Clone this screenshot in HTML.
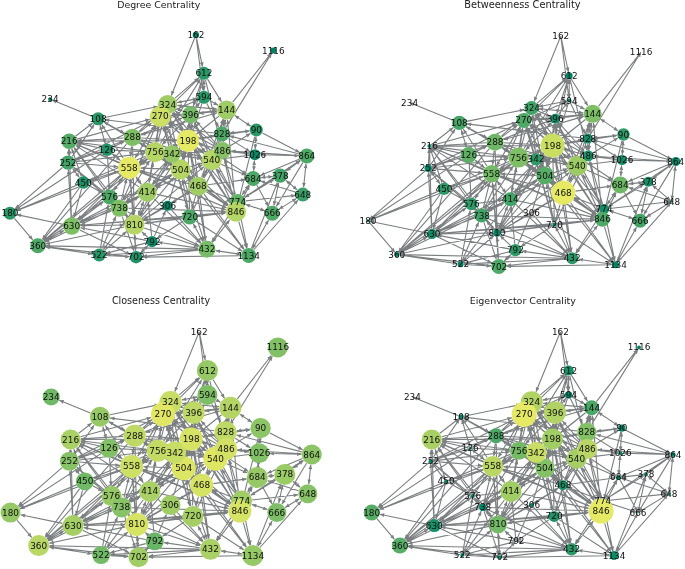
<!DOCTYPE html>
<html><head><meta charset="utf-8"><title>Centrality</title>
<style>html,body{margin:0;padding:0;background:#fff}svg{display:block;font-family:"DejaVu Sans","Liberation Sans",sans-serif}</style>
</head><body>
<svg width="685" height="569" viewBox="0 0 685 569">
<rect width="685" height="569" fill="#fff"/>
<g>
<path d="M91.8 116.3L52.2 100.1M196.6 38.4L202.5 66.7M196.3 38.5L203.1 90.5M194.6 38.2L171.3 95.5M232.7 102.2L271.3 53.1M226.0 127.4L271.6 53.3M203.9 80.1L203.9 90.5M203.9 90.5L203.9 80.1M175.0 98.2L198.8 77.7M167.9 108.8L199.1 78.1M160.5 143.5L200.4 79.1M207.5 79.1L221.4 101.6M202.4 79.9L190.6 129.7M197.3 98.6L177.2 102.6M177.2 102.6L197.3 98.6M209.9 100.6L218.1 105.2M195.8 107.7L199.8 102.6M170.1 112.0L197.7 100.0M206.9 103.4L218.5 127.0M201.9 103.7L183.8 159.7M75.5 136.3L92.7 123.0M72.3 156.4L94.2 124.4M104.0 122.1L124.5 133.2M124.5 133.2L104.0 122.1M105.3 143.5L100.0 125.3M100.0 125.3L105.3 143.5M123.2 158.2L101.7 124.6M104.7 117.5L158.0 106.5M214.1 133.0L104.8 119.7M103.9 122.3L146.2 147.0M123.5 138.0L77.2 140.7M100.8 148.3L77.0 142.9M144.9 150.9L77.1 142.2M118.9 163.1L76.5 144.4M139.0 186.9L75.9 145.6M105.0 190.6L73.9 147.7M71.4 217.0L69.4 149.2M68.4 155.1L68.8 149.2M76.9 139.1L149.8 119.2M128.1 216.7L74.1 147.5M72.6 168.5L79.3 177.3M79.3 177.3L72.6 168.5M62.4 167.5L15.1 208.7M71.1 217.0L68.4 170.0M75.0 159.8L124.1 140.7M75.5 163.2L118.0 166.7M75.5 161.7L144.9 153.4M103.6 192.0L73.8 167.3M100.9 151.8L75.1 160.2M77.3 185.0L16.3 210.6M118.7 171.7L16.4 210.8M145.6 156.2L16.3 210.6M62.8 224.2L16.7 214.6M101.7 153.3L15.7 209.5M14.4 218.4L32.7 239.8M81.6 188.7L74.0 217.3M79.5 187.7L42.3 239.4M89.5 180.5L118.5 171.1M118.5 171.1L89.5 180.5M89.0 185.6L102.8 193.2M81.2 176.3L71.8 148.8M163.5 156.7L89.5 180.5M113.0 146.9L124.3 141.4M112.2 153.8L120.5 160.6M120.5 160.6L112.2 153.8M113.6 150.1L144.8 151.7M107.5 156.2L109.2 189.1M63.9 230.5L44.5 241.8M44.5 241.8L63.9 230.5M126.5 144.2L42.9 239.8M120.7 175.0L43.7 240.6M103.1 201.3L44.2 241.3M138.4 196.6L44.8 242.3M124.3 227.0L45.4 244.0M198.1 249.1L45.6 245.9M92.5 254.0L45.5 246.9M45.5 246.9L92.5 254.0M129.6 256.5L45.5 246.6M147.0 158.6L43.9 240.8M78.8 220.5L103.4 201.7M111.0 211.2L80.1 222.8M124.1 225.0L80.7 225.8M80.7 225.8L124.1 225.0M138.3 196.3L79.9 222.3M121.3 175.7L78.0 219.6M79.8 229.9L130.2 254.4M181.9 217.5L80.6 225.3M146.4 240.4L80.5 227.7M171.5 174.2L79.6 221.8M225.7 212.6L80.6 225.2M106.0 255.4L129.6 256.8M100.4 248.4L108.2 204.6M101.9 248.8L115.9 216.3M104.4 250.6L126.6 231.5M141.3 200.1L103.4 249.6M198.1 249.8L106.0 254.7M146.5 242.9L105.8 253.4M135.7 250.7L134.9 235.1M122.3 216.6L134.0 251.1M140.7 252.7L148.0 245.5M148.0 245.5L140.7 252.7M198.2 250.3L142.5 256.5M130.1 178.9L135.6 250.7M240.9 255.7L142.6 257.1M147.9 237.5L141.9 231.9M151.6 235.7L148.2 202.1M198.2 248.1L157.9 242.3M183.1 221.2L157.0 238.3M154.4 236.1L165.5 210.7M262.4 133.1L299.8 152.4M255.9 136.7L255.2 148.9M255.2 148.9L255.9 136.7M299.0 155.8L260.7 154.8M260.7 154.8L299.0 155.8M299.0 155.5L231.1 151.1M306.0 163.7L303.6 187.3M303.6 187.3L306.0 163.7M300.5 160.6L286.2 171.1M286.2 171.1L300.5 160.6M299.6 159.0L260.3 175.5M302.8 162.6L276.3 206.5M244.5 197.3L300.3 160.3M299.2 154.0L229.4 135.9M297.2 189.9L285.9 180.4M285.9 180.4L297.2 189.9M296.6 198.4L279.0 209.1M279.0 209.1L296.6 198.4M295.9 192.3L260.5 180.9M245.9 200.9L295.6 195.4M253.8 249.7L298.0 200.0M272.7 176.4L260.9 177.7M260.9 177.7L272.7 176.4M278.6 182.9L273.9 205.6M273.9 205.6L278.6 182.9M244.7 197.5L273.8 179.5M273.8 179.5L244.7 197.5M251.5 248.3L277.4 182.5M253.7 170.7L254.4 160.5M254.4 160.5L253.7 170.7M256.9 185.3L268.5 206.4M248.8 185.0L242.2 194.9M242.2 194.9L248.8 185.0M208.0 184.8L245.4 179.6M221.2 164.3L246.0 175.3M240.7 202.6L249.5 185.4M264.9 210.8L245.5 204.4M245.5 204.4L264.9 210.8M268.5 220.0L252.5 248.7M252.5 248.7L268.5 220.0M238.8 221.6L246.5 248.0M239.3 210.0L247.1 247.9M241.0 254.4L215.6 250.6M215.6 250.6L241.0 254.4M204.1 194.1L244.1 249.2M187.0 177.5L243.8 249.4M196.2 221.2L242.1 251.3M212.3 242.4L229.7 219.9M229.7 219.9L212.3 242.4M202.8 241.6L193.3 223.8M193.3 223.8L202.8 241.6M199.7 195.9L205.7 240.6M233.1 208.8L211.7 241.9M144.2 228.1L198.6 246.5M171.2 209.7L201.0 242.8M154.3 199.1L200.5 243.3M183.8 179.2L204.1 241.0M249.1 155.4L222.0 158.8M231.1 151.7L249.1 153.9M228.5 138.1L250.0 151.6M249.6 130.7L229.6 133.1M229.6 133.1L249.6 130.7M250.7 126.2L234.7 115.4M234.7 115.4L250.7 126.2M229.9 146.0L250.5 133.5M199.2 138.9L249.6 131.0M183.2 159.5L185.2 151.6M179.5 133.2L168.3 123.5M203.8 153.6L196.8 147.8M182.4 130.8L172.4 113.1M172.4 113.1L182.4 130.8M181.7 115.2L171.0 115.8M171.0 115.8L181.7 115.2M181.0 149.6L153.3 184.6M189.1 129.4L189.6 123.4M190.5 166.5L202.0 163.1M164.8 148.8L177.3 144.4M216.2 169.4L231.6 202.4M156.5 142.0L158.7 127.1M158.7 127.1L156.5 142.0M191.2 179.5L188.1 176.5M188.1 176.5L191.2 179.5M196.2 176.6L190.5 151.7M140.0 164.2L163.5 156.7M163.5 156.7L140.0 164.2M206.4 191.7L227.4 205.9M139.6 132.0L151.6 122.9M218.9 116.1L196.8 133.7M207.4 150.8L194.2 122.6M188.8 175.7L227.8 205.5M227.8 205.5L188.8 175.7M216.8 110.9L171.0 115.3M171.0 115.3L216.8 110.9M213.9 148.1L198.9 143.8M146.3 157.5L139.0 161.9M202.8 177.5L207.1 169.2M207.1 169.2L202.8 177.5M125.4 214.8L127.5 217.1M127.5 217.1L125.4 214.8M141.4 138.0L176.7 140.0M135.9 176.8L141.4 184.4M141.4 184.4L135.9 176.8M135.1 158.0L154.6 125.6M194.3 150.1L230.2 203.2M201.6 158.5L180.9 155.4M180.9 155.4L201.6 158.5M138.2 215.2L143.6 201.4M143.6 201.4L138.2 215.2M176.6 108.5L182.4 111.1M169.3 145.4L163.4 126.7M216.9 111.2L199.2 113.5M199.2 113.5L216.9 111.2M139.6 163.0L177.7 145.4M177.7 145.4L139.6 163.0M163.6 158.0L172.1 163.7M224.3 159.1L233.7 201.7M216.8 109.1L177.4 105.4M177.4 105.4L216.8 109.1M204.0 153.4L168.5 123.3M168.5 123.3L204.0 153.4M195.7 195.6L191.8 209.4M172.1 175.3L155.3 186.8M133.5 214.6L130.3 178.9M156.8 194.4L225.9 209.5M192.1 178.6L177.7 161.0M214.2 135.5L199.1 138.5M199.1 138.5L214.2 135.5M157.7 142.3L165.1 114.0M139.9 142.4L172.0 163.8M141.0 216.9L174.0 177.4M144.6 223.5L225.7 213.0M121.6 199.3L126.6 178.7M193.6 177.6L165.4 125.8M216.5 144.0L196.3 121.3M165.3 153.6L201.6 158.7M201.6 158.7L165.3 153.6M197.4 216.1L225.7 212.9M127.3 203.6L138.7 197.1M139.0 131.3L160.4 111.2M214.7 146.3L169.7 121.6M203.8 178.1L217.4 157.8M223.8 119.4L214.7 150.2M139.9 216.1L181.9 150.2M181.9 150.2L139.9 216.1M182.4 159.3L188.9 123.3M188.9 123.3L182.4 159.3M178.7 160.0L228.3 204.8M127.0 203.3L171.9 175.0M171.9 175.0L127.0 203.3M171.2 145.0L168.5 114.3M176.9 159.8L164.1 126.4M190.6 180.1L163.2 158.6M224.7 119.6L223.4 126.3M223.4 126.3L224.7 119.6M131.5 146.4L130.5 156.4M139.7 172.0L226.4 207.8M215.6 144.9L175.1 110.8M123.1 199.8L155.8 126.2M155.8 126.2L123.1 199.8M153.1 162.3L149.1 182.7M149.1 182.7L153.1 162.3M229.9 198.8L207.4 189.8M189.5 209.1L188.2 152.0M205.4 152.0L173.7 112.2M173.7 112.2L205.4 152.0M139.2 215.7L167.8 161.9M227.5 119.7L235.0 201.5M235.0 201.5L227.5 119.7M140.0 142.4L146.5 146.6M190.5 180.4L139.7 142.8M125.9 201.8L179.9 148.6M179.9 148.6L125.9 201.8M170.3 169.1L140.6 168.1M140.6 168.1L170.3 169.1M162.2 144.7L184.4 121.1M184.4 121.1L162.2 144.7M225.6 119.7L223.3 141.8M114.8 202.8L127.6 217.1M127.6 217.1L114.8 202.8M148.9 182.6L158.4 127.0M172.1 202.9L190.1 191.5M190.1 191.5L172.1 202.9M193.1 209.9L218.5 158.4M219.1 141.3L215.5 150.5M194.2 122.7L231.6 202.4M140.7 140.9L163.7 150.5M135.1 158.0L162.5 112.9M162.5 112.9L135.1 158.0M187.5 209.4L163.2 126.7M163.2 126.7L187.5 209.4M152.5 184.1L167.1 161.5M167.1 161.5L152.5 184.1M232.4 195.4L195.1 149.5M213.6 151.1L181.0 153.4M141.1 139.9L201.9 157.3M181.9 218.0L144.6 223.4M128.4 208.3L225.7 211.4M197.3 176.5L191.4 123.4M201.7 177.0L223.2 119.1M169.2 200.7L184.6 151.5M233.3 194.8L217.2 168.9M132.6 146.4L134.2 214.5M163.4 158.3L227.7 205.6M178.6 159.4L169.5 114.2M169.5 114.2L178.6 159.4M246.6 174.2L169.2 122.4M169.2 122.4L246.6 174.2M117.3 196.0L137.5 193.5M217.2 112.7L141.1 134.9M141.1 134.9L217.2 112.7M77.2 141.1L176.7 140.7M176.7 140.7L77.2 141.1M113.9 190.5L123.0 177.1M123.0 177.1L113.9 190.5M201.8 79.8L193.2 106.3M202.6 164.7L156.0 187.9M156.0 187.9L202.6 164.7M189.9 191.3L143.2 219.5M254.7 136.6L238.5 201.7M124.3 200.5L149.5 160.9M233.7 194.6L194.6 122.4M205.5 79.9L220.3 142.0M187.6 209.4L174.5 162.7M127.6 211.9L198.9 245.6M163.0 208.4L143.3 219.7M172.9 112.8L230.4 203.0M73.6 167.5L112.7 202.1M78.4 220.0L147.4 159.0M74.7 159.2L150.6 121.2M188.9 183.7L140.2 170.6M219.0 116.1L179.0 148.3M205.4 240.7L189.9 151.8M140.8 134.2L182.3 117.9M235.3 193.9L224.9 159.0M188.2 209.3L182.5 179.6M142.3 218.2L203.9 166.7M76.6 144.3L226.5 207.7" stroke="#7b7f81" stroke-width="1.1" fill="none"/>
<path d="M52.2 100.1L57.0 100.0L55.6 103.5ZM202.5 66.7L199.8 62.7L203.5 62.0ZM203.1 90.5L200.6 86.4L204.4 85.9ZM171.3 95.5L171.2 90.7L174.7 92.1ZM271.3 53.1L270.0 57.7L267.0 55.3ZM271.6 53.3L270.9 58.0L267.6 56.0ZM203.9 90.5L202.0 86.1L205.8 86.1ZM203.9 80.1L205.8 84.5L202.0 84.5ZM198.8 77.7L196.7 82.1L194.2 79.2ZM199.1 78.1L197.3 82.5L194.6 79.8ZM200.4 79.1L199.7 83.8L196.4 81.8ZM221.4 101.6L217.5 98.9L220.8 96.9ZM190.6 129.7L189.8 125.0L193.5 125.9ZM177.2 102.6L181.1 99.9L181.9 103.6ZM197.3 98.6L193.3 101.3L192.6 97.6ZM218.1 105.2L213.3 104.7L215.1 101.4ZM199.8 102.6L198.6 107.3L195.6 104.9ZM197.7 100.0L194.4 103.5L192.9 100.0ZM218.5 127.0L214.8 123.9L218.2 122.2ZM183.8 159.7L183.3 154.9L186.9 156.0ZM92.7 123.0L90.4 127.2L88.0 124.2ZM94.2 124.4L93.3 129.1L90.2 127.0ZM124.5 133.2L119.7 132.7L121.6 129.4ZM104.0 122.1L108.8 122.5L107.0 125.8ZM100.0 125.3L103.0 129.0L99.4 130.1ZM105.3 143.5L102.2 139.8L105.9 138.8ZM101.7 124.6L105.7 127.2L102.5 129.3ZM158.0 106.5L154.1 109.3L153.3 105.5ZM104.8 119.7L109.4 118.3L108.9 122.1ZM146.2 147.0L141.4 146.4L143.4 143.1ZM77.2 140.7L81.5 138.6L81.7 142.3ZM77.0 142.9L81.7 142.1L80.9 145.8ZM77.1 142.2L81.7 140.9L81.3 144.6ZM76.5 144.4L81.3 144.4L79.8 147.9ZM75.9 145.6L80.6 146.4L78.5 149.6ZM73.9 147.7L78.0 150.1L74.9 152.3ZM69.4 149.2L71.5 153.5L67.7 153.6ZM68.8 149.2L70.4 153.7L66.6 153.5ZM149.8 119.2L146.0 122.2L145.0 118.5ZM74.1 147.5L78.3 149.8L75.3 152.1ZM79.3 177.3L75.1 175.0L78.2 172.7ZM72.6 168.5L76.8 170.8L73.8 173.2ZM15.1 208.7L17.2 204.4L19.7 207.3ZM68.4 170.0L70.6 174.3L66.8 174.5ZM124.1 140.7L120.6 144.1L119.3 140.5ZM118.0 166.7L113.5 168.3L113.8 164.5ZM144.9 153.4L140.7 155.8L140.3 152.1ZM73.8 167.3L78.4 168.7L76.0 171.6ZM75.1 160.2L78.7 157.0L79.9 160.7ZM16.3 210.6L19.6 207.1L21.1 210.6ZM16.4 210.8L19.8 207.4L21.1 211.0ZM16.3 210.6L19.6 207.1L21.1 210.6ZM16.7 214.6L21.4 213.6L20.6 217.3ZM15.7 209.5L18.3 205.5L20.4 208.7ZM32.7 239.8L28.4 237.7L31.3 235.2ZM74.0 217.3L73.3 212.6L77.0 213.5ZM42.3 239.4L43.4 234.7L46.4 236.9ZM118.5 171.1L114.9 174.3L113.8 170.7ZM89.5 180.5L93.1 177.3L94.2 180.9ZM102.8 193.2L98.0 192.7L99.8 189.4ZM71.8 148.8L75.0 152.3L71.4 153.5ZM89.5 180.5L93.1 177.3L94.2 180.9ZM124.3 141.4L121.2 145.0L119.6 141.6ZM120.5 160.6L115.9 159.3L118.3 156.3ZM112.2 153.8L116.8 155.1L114.4 158.1ZM144.8 151.7L140.3 153.4L140.5 149.6ZM109.2 189.1L107.1 184.8L110.8 184.7ZM44.5 241.8L47.4 237.9L49.3 241.2ZM63.9 230.5L61.0 234.4L59.1 231.1ZM42.9 239.8L44.4 235.3L47.2 237.8ZM43.7 240.6L45.8 236.3L48.3 239.2ZM44.2 241.3L46.8 237.3L48.9 240.4ZM44.8 242.3L47.9 238.6L49.6 242.0ZM45.4 244.0L49.3 241.3L50.1 245.0ZM45.6 245.9L50.0 244.1L49.9 247.9ZM45.5 246.9L50.1 245.6L49.6 249.4ZM92.5 254.0L87.9 255.2L88.5 251.5ZM45.5 246.6L50.1 245.2L49.7 249.0ZM43.9 240.8L46.1 236.6L48.5 239.6ZM103.4 201.7L101.1 205.9L98.7 202.8ZM80.1 222.8L83.5 219.5L84.9 223.1ZM80.7 225.8L85.0 223.8L85.1 227.6ZM124.1 225.0L119.7 227.0L119.7 223.2ZM79.9 222.3L83.1 218.8L84.7 222.3ZM78.0 219.6L79.7 215.1L82.4 217.8ZM130.2 254.4L125.4 254.2L127.1 250.8ZM80.6 225.3L84.9 223.1L85.2 226.9ZM80.5 227.7L85.2 226.7L84.5 230.4ZM79.6 221.8L82.7 218.1L84.4 221.5ZM80.6 225.2L84.8 222.9L85.2 226.7ZM129.6 256.8L125.1 258.5L125.3 254.7ZM108.2 204.6L109.3 209.3L105.6 208.6ZM115.9 216.3L115.9 221.1L112.4 219.6ZM126.6 231.5L124.5 235.8L122.0 233.0ZM103.4 249.6L104.5 245.0L107.6 247.3ZM106.0 254.7L110.3 252.6L110.5 256.4ZM105.8 253.4L109.6 250.4L110.6 254.1ZM134.9 235.1L137.1 239.4L133.3 239.6ZM134.0 251.1L130.8 247.5L134.4 246.3ZM148.0 245.5L146.2 250.0L143.5 247.2ZM140.7 252.7L142.5 248.2L145.2 250.9ZM142.5 256.5L146.7 254.1L147.1 257.9ZM135.6 250.7L133.4 246.5L137.1 246.2ZM142.6 257.1L147.0 255.2L147.0 259.0ZM141.9 231.9L146.4 233.5L143.8 236.3ZM148.2 202.1L150.5 206.2L146.7 206.6ZM157.9 242.3L162.5 241.0L162.0 244.8ZM157.0 238.3L159.6 234.3L161.7 237.5ZM165.5 210.7L165.5 215.5L162.0 213.9ZM299.8 152.4L295.1 152.1L296.8 148.7ZM255.2 148.9L253.6 144.4L257.4 144.6ZM255.9 136.7L257.6 141.2L253.8 141.0ZM260.7 154.8L265.1 153.0L265.0 156.8ZM299.0 155.8L294.5 157.6L294.6 153.8ZM231.1 151.1L235.7 149.5L235.4 153.3ZM303.6 187.3L302.1 182.7L305.9 183.1ZM306.0 163.7L307.4 168.3L303.7 167.9ZM286.2 171.1L288.6 167.0L290.9 170.0ZM300.5 160.6L298.1 164.7L295.8 161.7ZM260.3 175.5L263.6 172.0L265.1 175.5ZM276.3 206.5L277.0 201.8L280.2 203.7ZM300.3 160.3L297.7 164.3L295.6 161.1ZM229.4 135.9L234.2 135.2L233.2 138.9ZM285.9 180.4L290.5 181.8L288.1 184.7ZM297.2 189.9L292.7 188.5L295.1 185.6ZM279.0 209.1L281.7 205.2L283.7 208.5ZM296.6 198.4L293.8 202.3L291.9 199.0ZM260.5 180.9L265.3 180.5L264.1 184.1ZM295.6 195.4L291.4 197.8L291.0 194.0ZM298.0 200.0L296.5 204.6L293.6 202.1ZM260.9 177.7L265.0 175.3L265.4 179.1ZM272.7 176.4L268.6 178.7L268.1 175.0ZM273.9 205.6L272.9 200.9L276.7 201.6ZM278.6 182.9L279.6 187.6L275.9 186.8ZM273.8 179.5L271.1 183.4L269.1 180.2ZM244.7 197.5L247.4 193.6L249.4 196.8ZM277.4 182.5L277.6 187.3L274.1 185.9ZM254.4 160.5L256.0 165.0L252.2 164.7ZM253.7 170.7L252.1 166.2L255.9 166.5ZM268.5 206.4L264.7 203.4L268.1 201.6ZM242.2 194.9L243.1 190.2L246.2 192.3ZM248.8 185.0L247.9 189.7L244.8 187.6ZM245.4 179.6L241.3 182.1L240.8 178.3ZM246.0 175.3L241.2 175.3L242.7 171.8ZM249.5 185.4L249.2 190.2L245.8 188.5ZM245.5 204.4L250.3 204.0L249.1 207.6ZM264.9 210.8L260.1 211.2L261.3 207.6ZM252.5 248.7L253.0 244.0L256.3 245.8ZM268.5 220.0L268.0 224.8L264.7 222.9ZM246.5 248.0L243.4 244.4L247.1 243.3ZM247.1 247.9L244.3 244.0L248.1 243.2ZM215.6 250.6L220.2 249.4L219.7 253.2ZM241.0 254.4L236.3 255.6L236.9 251.9ZM244.1 249.2L240.0 246.8L243.0 244.6ZM243.8 249.4L239.6 247.1L242.6 244.8ZM242.1 251.3L237.4 250.5L239.5 247.3ZM229.7 219.9L228.5 224.5L225.5 222.2ZM212.3 242.4L213.5 237.7L216.5 240.0ZM193.3 223.8L197.1 226.8L193.7 228.6ZM202.8 241.6L199.0 238.6L202.4 236.8ZM205.7 240.6L203.2 236.5L207.0 236.0ZM211.7 241.9L212.5 237.2L215.7 239.3ZM198.6 246.5L193.8 246.9L195.0 243.3ZM201.0 242.8L196.6 240.8L199.5 238.3ZM200.5 243.3L196.0 241.6L198.7 238.8ZM204.1 241.0L201.0 237.4L204.6 236.2ZM222.0 158.8L226.2 156.4L226.6 160.1ZM249.1 153.9L244.5 155.3L245.0 151.5ZM250.0 151.6L245.2 150.9L247.2 147.7ZM229.6 133.1L233.8 130.7L234.2 134.5ZM249.6 130.7L245.4 133.1L245.0 129.4ZM234.7 115.4L239.4 116.3L237.3 119.5ZM250.7 126.2L246.0 125.3L248.1 122.1ZM250.5 133.5L247.8 137.4L245.8 134.1ZM249.6 131.0L245.6 133.6L245.0 129.8ZM185.2 151.6L185.9 156.4L182.2 155.4ZM168.3 123.5L172.9 124.9L170.4 127.8ZM196.8 147.8L201.4 149.1L199.0 152.1ZM172.4 113.1L176.2 116.0L172.9 117.8ZM182.4 130.8L178.6 127.9L181.9 126.1ZM171.0 115.8L175.3 113.6L175.5 117.4ZM181.7 115.2L177.4 117.3L177.2 113.5ZM153.3 184.6L154.5 180.0L157.5 182.3ZM189.6 123.4L191.1 128.0L187.3 127.6ZM202.0 163.1L198.3 166.1L197.2 162.5ZM177.3 144.4L173.8 147.7L172.5 144.1ZM231.6 202.4L228.0 199.2L231.5 197.6ZM158.7 127.1L159.9 131.7L156.2 131.1ZM156.5 142.0L155.3 137.4L159.1 137.9ZM188.1 176.5L192.6 178.2L190.0 180.9ZM191.2 179.5L186.7 177.8L189.3 175.1ZM190.5 151.7L193.3 155.6L189.6 156.4ZM163.5 156.7L159.9 159.9L158.7 156.3ZM140.0 164.2L143.7 161.1L144.8 164.7ZM227.4 205.9L222.7 205.0L224.9 201.9ZM151.6 122.9L149.3 127.1L147.0 124.0ZM196.8 133.7L199.1 129.4L201.5 132.4ZM194.2 122.6L197.8 125.8L194.4 127.4ZM227.8 205.5L223.1 204.3L225.4 201.3ZM188.8 175.7L193.4 176.9L191.1 179.9ZM171.0 115.3L175.2 113.0L175.5 116.8ZM216.8 110.9L212.6 113.2L212.3 109.4ZM198.9 143.8L203.6 143.2L202.6 146.8ZM139.0 161.9L141.8 158.0L143.7 161.2ZM207.1 169.2L206.8 174.0L203.4 172.3ZM202.8 177.5L203.2 172.7L206.5 174.5ZM127.5 217.1L123.2 215.1L126.0 212.6ZM125.4 214.8L129.8 216.8L126.9 219.3ZM176.7 140.0L172.2 141.7L172.4 137.9ZM141.4 184.4L137.3 181.9L140.4 179.7ZM135.9 176.8L140.1 179.3L137.0 181.5ZM154.6 125.6L154.0 130.4L150.7 128.4ZM230.2 203.2L226.2 200.6L229.3 198.5ZM180.9 155.4L185.6 154.1L185.0 157.9ZM201.6 158.5L197.0 159.7L197.6 156.0ZM143.6 201.4L143.8 206.2L140.2 204.8ZM138.2 215.2L138.0 210.4L141.6 211.8ZM182.4 111.1L177.6 111.1L179.2 107.6ZM163.4 126.7L166.6 130.3L163.0 131.4ZM199.2 113.5L203.3 111.1L203.8 114.9ZM216.9 111.2L212.8 113.7L212.3 109.9ZM177.7 145.4L174.5 149.0L172.9 145.5ZM139.6 163.0L142.8 159.4L144.3 162.8ZM172.1 163.7L167.4 162.8L169.5 159.6ZM233.7 201.7L230.9 197.8L234.6 196.9ZM177.4 105.4L181.9 103.9L181.6 107.7ZM216.8 109.1L212.3 110.6L212.6 106.8ZM168.5 123.3L173.0 124.7L170.6 127.6ZM204.0 153.4L199.4 152.0L201.8 149.1ZM191.8 209.4L191.1 204.7L194.8 205.7ZM155.3 186.8L157.9 182.7L160.0 185.9ZM130.3 178.9L132.6 183.1L128.8 183.5ZM225.9 209.5L221.2 210.4L222.0 206.7ZM177.7 161.0L182.0 163.2L179.0 165.6ZM199.1 138.5L203.0 135.8L203.8 139.5ZM214.2 135.5L210.3 138.2L209.5 134.5ZM165.1 114.0L165.8 118.8L162.2 117.8ZM172.0 163.8L167.3 162.9L169.4 159.7ZM174.0 177.4L172.6 182.0L169.7 179.5ZM225.7 213.0L221.6 215.5L221.1 211.7ZM126.6 178.7L127.4 183.4L123.7 182.5ZM165.4 125.8L169.2 128.8L165.8 130.6ZM196.3 121.3L200.6 123.3L197.8 125.8ZM201.6 158.7L197.0 160.0L197.5 156.2ZM165.3 153.6L169.9 152.4L169.4 156.1ZM225.7 212.9L221.6 215.2L221.1 211.5ZM138.7 197.1L135.8 201.0L133.9 197.7ZM160.4 111.2L158.5 115.6L155.9 112.9ZM169.7 121.6L174.4 122.0L172.6 125.4ZM217.4 157.8L216.6 162.5L213.4 160.4ZM214.7 150.2L214.2 145.5L217.8 146.5ZM181.9 150.2L181.2 155.0L178.0 152.9ZM139.9 216.1L140.7 211.4L143.9 213.4ZM188.9 123.3L190.0 128.0L186.2 127.3ZM182.4 159.3L181.3 154.6L185.1 155.3ZM228.3 204.8L223.8 203.3L226.3 200.4ZM171.9 175.0L169.2 178.9L167.2 175.7ZM127.0 203.3L129.8 199.3L131.8 202.5ZM168.5 114.3L170.8 118.5L167.0 118.9ZM164.1 126.4L167.4 129.9L163.9 131.2ZM163.2 158.6L167.8 159.8L165.5 162.8ZM223.4 126.3L222.4 121.7L226.1 122.4ZM224.7 119.6L225.7 124.3L222.0 123.5ZM130.5 156.4L129.0 151.9L132.8 152.3ZM226.4 207.8L221.6 207.9L223.1 204.3ZM175.1 110.8L179.7 112.2L177.3 115.1ZM155.8 126.2L155.8 131.0L152.3 129.5ZM123.1 199.8L123.1 195.0L126.6 196.6ZM149.1 182.7L148.1 178.0L151.8 178.7ZM153.1 162.3L154.1 167.0L150.4 166.3ZM207.4 189.8L212.2 189.7L210.8 193.2ZM188.2 152.0L190.2 156.3L186.4 156.4ZM173.7 112.2L177.9 114.5L175.0 116.8ZM205.4 152.0L201.2 149.8L204.2 147.4ZM167.8 161.9L167.4 166.7L164.1 164.9ZM235.0 201.5L232.7 197.2L236.5 196.9ZM227.5 119.7L229.8 123.9L226.0 124.3ZM146.5 146.6L141.7 145.8L143.8 142.6ZM139.7 142.8L144.3 143.9L142.1 146.9ZM179.9 148.6L178.1 153.1L175.5 150.3ZM125.9 201.8L127.7 197.3L130.3 200.0ZM140.6 168.1L145.0 166.3L144.9 170.1ZM170.3 169.1L165.8 170.8L166.0 167.0ZM184.4 121.1L182.8 125.6L180.0 123.0ZM162.2 144.7L163.8 140.2L166.6 142.8ZM223.3 141.8L221.8 137.2L225.6 137.6ZM127.6 217.1L123.2 215.1L126.0 212.6ZM114.8 202.8L119.1 204.8L116.3 207.3ZM158.4 127.0L159.5 131.7L155.8 131.0ZM190.1 191.5L187.4 195.4L185.3 192.2ZM172.1 202.9L174.8 199.0L176.8 202.2ZM218.5 158.4L218.2 163.2L214.8 161.5ZM215.5 150.5L215.3 145.7L218.9 147.1ZM231.6 202.4L228.0 199.2L231.4 197.6ZM163.7 150.5L158.9 150.6L160.4 147.1ZM162.5 112.9L161.9 117.7L158.6 115.7ZM135.1 158.0L135.8 153.3L139.1 155.2ZM163.2 126.7L166.3 130.4L162.7 131.5ZM187.5 209.4L184.4 205.8L188.1 204.7ZM167.1 161.5L166.3 166.3L163.2 164.2ZM152.5 184.1L153.3 179.4L156.5 181.4ZM195.1 149.5L199.4 151.7L196.4 154.1ZM181.0 153.4L185.3 151.2L185.5 155.0ZM201.9 157.3L197.2 157.9L198.2 154.2ZM144.6 223.4L148.7 220.9L149.2 224.6ZM225.7 211.4L221.2 213.1L221.3 209.4ZM191.4 123.4L193.8 127.6L190.0 128.0ZM223.2 119.1L223.4 123.9L219.9 122.6ZM184.6 151.5L185.1 156.2L181.5 155.1ZM217.2 168.9L221.2 171.6L217.9 173.6ZM134.2 214.5L132.2 210.2L136.0 210.1ZM227.7 205.6L223.0 204.5L225.2 201.5ZM169.5 114.2L172.3 118.1L168.5 118.8ZM178.6 159.4L175.9 155.4L179.6 154.7ZM169.2 122.4L173.9 123.2L171.8 126.4ZM246.6 174.2L241.9 173.3L244.0 170.2ZM137.5 193.5L133.3 195.9L132.9 192.2ZM141.1 134.9L144.8 131.9L145.8 135.5ZM217.2 112.7L213.5 115.8L212.4 112.1ZM176.7 140.7L172.3 142.7L172.3 138.9ZM77.2 141.1L81.6 139.2L81.6 143.0ZM123.0 177.1L122.1 181.8L118.9 179.6ZM113.9 190.5L114.8 185.8L118.0 187.9ZM193.2 106.3L192.7 101.5L196.4 102.7ZM156.0 187.9L159.1 184.3L160.8 187.7ZM202.6 164.7L199.5 168.4L197.8 165.0ZM143.2 219.5L146.0 215.6L148.0 218.8ZM238.5 201.7L237.7 197.0L241.4 197.9ZM149.5 160.9L148.8 165.6L145.6 163.6ZM194.6 122.4L198.4 125.4L195.1 127.2ZM220.3 142.0L217.5 138.1L221.2 137.3ZM174.5 162.7L177.5 166.4L173.8 167.4ZM198.9 245.6L194.2 245.4L195.8 242.0ZM143.3 219.7L146.2 215.9L148.1 219.2ZM230.4 203.0L226.5 200.3L229.7 198.3ZM112.7 202.1L108.1 200.6L110.7 197.8ZM147.4 159.0L145.3 163.4L142.8 160.5ZM150.6 121.2L147.5 124.9L145.8 121.5ZM140.2 170.6L144.9 169.9L144.0 173.6ZM179.0 148.3L181.3 144.1L183.7 147.1ZM189.9 151.8L192.6 155.8L188.8 156.5ZM182.3 117.9L178.9 121.3L177.5 117.7ZM224.9 159.0L228.0 162.7L224.3 163.7ZM182.5 179.6L185.2 183.5L181.5 184.2ZM203.9 166.7L201.8 171.0L199.3 168.1ZM226.5 207.7L221.7 207.7L223.2 204.2Z" fill="#7b7f81" stroke="none"/>
<circle cx="50.1" cy="99.2" r="2.0" fill="rgb(0,133,103)"/>
<circle cx="98.1" cy="118.8" r="6.5" fill="rgb(40,152,103)"/>
<circle cx="195.9" cy="35.0" r="3.2" fill="rgb(0,133,103)"/>
<circle cx="273.3" cy="50.5" r="3.0" fill="rgb(0,133,103)"/>
<circle cx="203.9" cy="73.3" r="6.5" fill="rgb(40,152,103)"/>
<circle cx="203.9" cy="97.3" r="6.5" fill="rgb(40,152,103)"/>
<circle cx="226.6" cy="110.0" r="9.5" fill="rgb(159,204,101)"/>
<circle cx="256.3" cy="130.0" r="6.5" fill="rgb(40,152,103)"/>
<circle cx="167.6" cy="104.5" r="9.5" fill="rgb(159,204,101)"/>
<circle cx="160.2" cy="116.4" r="10.5" fill="rgb(205,223,100)"/>
<circle cx="190.5" cy="114.7" r="8.5" fill="rgb(118,187,102)"/>
<circle cx="221.9" cy="134.0" r="7.5" fill="rgb(77,168,102)"/>
<circle cx="10.0" cy="213.2" r="6.5" fill="rgb(40,152,103)"/>
<circle cx="37.8" cy="245.7" r="7.5" fill="rgb(77,168,102)"/>
<circle cx="71.7" cy="226.0" r="8.7" fill="rgb(126,191,102)"/>
<circle cx="99.2" cy="255.0" r="6.5" fill="rgb(40,152,103)"/>
<circle cx="136.1" cy="257.2" r="6.2" fill="rgb(31,147,103)"/>
<circle cx="69.2" cy="141.2" r="7.7" fill="rgb(84,172,102)"/>
<circle cx="68.0" cy="162.6" r="7.2" fill="rgb(65,163,102)"/>
<circle cx="83.3" cy="182.5" r="6.2" fill="rgb(31,147,103)"/>
<circle cx="107.1" cy="149.8" r="6.2" fill="rgb(31,147,103)"/>
<circle cx="132.4" cy="137.4" r="8.7" fill="rgb(126,191,102)"/>
<circle cx="129.3" cy="167.7" r="11.0" fill="rgb(229,233,100)"/>
<circle cx="109.6" cy="196.9" r="7.5" fill="rgb(77,168,102)"/>
<circle cx="119.4" cy="208.1" r="8.7" fill="rgb(126,191,102)"/>
<circle cx="147.2" cy="192.3" r="9.5" fill="rgb(159,204,101)"/>
<circle cx="134.4" cy="224.8" r="10.0" fill="rgb(181,213,101)"/>
<circle cx="152.1" cy="241.5" r="5.5" fill="rgb(9,137,103)"/>
<circle cx="155.1" cy="152.2" r="10.0" fill="rgb(181,213,101)"/>
<circle cx="306.8" cy="156.0" r="7.5" fill="rgb(77,168,102)"/>
<circle cx="302.8" cy="194.6" r="7.0" fill="rgb(58,160,103)"/>
<circle cx="248.7" cy="255.5" r="7.5" fill="rgb(77,168,102)"/>
<circle cx="206.9" cy="249.3" r="8.5" fill="rgb(118,187,102)"/>
<circle cx="272.3" cy="213.2" r="7.5" fill="rgb(77,168,102)"/>
<circle cx="280.2" cy="175.6" r="7.2" fill="rgb(65,163,102)"/>
<circle cx="253.1" cy="178.5" r="7.5" fill="rgb(77,168,102)"/>
<circle cx="254.9" cy="154.7" r="5.5" fill="rgb(9,137,103)"/>
<circle cx="237.6" cy="201.9" r="8.0" fill="rgb(97,177,102)"/>
<circle cx="236.0" cy="211.7" r="10.0" fill="rgb(181,213,101)"/>
<circle cx="189.7" cy="216.9" r="7.5" fill="rgb(77,168,102)"/>
<circle cx="167.6" cy="205.8" r="5.0" fill="rgb(0,133,103)"/>
<circle cx="198.3" cy="186.2" r="9.5" fill="rgb(159,204,101)"/>
<circle cx="180.6" cy="169.5" r="10.0" fill="rgb(181,213,101)"/>
<circle cx="211.8" cy="160.1" r="10.0" fill="rgb(181,213,101)"/>
<circle cx="222.4" cy="150.5" r="8.5" fill="rgb(133,193,102)"/>
<circle cx="172.0" cy="154.0" r="8.7" fill="rgb(148,200,102)"/>
<circle cx="188.0" cy="140.7" r="11.0" fill="rgb(229,233,100)"/>
<g font-size="8.9" text-anchor="middle" fill="#111">
<text x="50.1" y="102.2">234</text>
<text x="98.1" y="121.8">108</text>
<text x="195.9" y="38.0">162</text>
<text x="273.3" y="53.5">1116</text>
<text x="203.9" y="76.3">612</text>
<text x="203.9" y="100.3">594</text>
<text x="226.6" y="113.0">144</text>
<text x="256.3" y="133.0">90</text>
<text x="167.6" y="107.5">324</text>
<text x="160.2" y="119.4">270</text>
<text x="190.5" y="117.7">396</text>
<text x="221.9" y="137.0">828</text>
<text x="10.0" y="216.2">180</text>
<text x="37.8" y="248.7">360</text>
<text x="71.7" y="229.0">630</text>
<text x="99.2" y="258.0">522</text>
<text x="136.1" y="260.2">702</text>
<text x="69.2" y="144.2">216</text>
<text x="68.0" y="165.6">252</text>
<text x="83.3" y="185.5">450</text>
<text x="107.1" y="152.8">126</text>
<text x="132.4" y="140.4">288</text>
<text x="129.3" y="170.7">558</text>
<text x="109.6" y="199.9">576</text>
<text x="119.4" y="211.1">738</text>
<text x="147.2" y="195.3">414</text>
<text x="134.4" y="227.8">810</text>
<text x="152.1" y="244.5">792</text>
<text x="155.1" y="155.2">756</text>
<text x="306.8" y="159.0">864</text>
<text x="302.8" y="197.6">648</text>
<text x="248.7" y="258.5">1134</text>
<text x="206.9" y="252.3">432</text>
<text x="272.3" y="216.2">666</text>
<text x="280.2" y="178.6">378</text>
<text x="253.1" y="181.5">684</text>
<text x="254.9" y="157.7">1026</text>
<text x="237.6" y="204.9">774</text>
<text x="236.0" y="214.7">846</text>
<text x="189.7" y="219.9">720</text>
<text x="167.6" y="208.8">306</text>
<text x="198.3" y="189.2">468</text>
<text x="180.6" y="172.5">504</text>
<text x="211.8" y="163.1">540</text>
<text x="222.4" y="153.5">486</text>
<text x="172.0" y="157.0">342</text>
<text x="188.0" y="143.7">198</text>
</g>
<text x="158.7" y="8.0" font-size="9.4" text-anchor="middle" fill="#1a1a1a">Degree Centrality</text>
</g>
<g>
<path d="M452.4 120.1L409.9 102.7M560.9 36.3L568.4 72.0M560.8 36.3L568.9 98.3M560.7 36.3L534.2 101.4M598.4 106.4L640.9 52.3M590.5 134.2L640.9 52.3M569.2 79.5L569.2 98.3M569.2 98.3L569.2 79.5M537.0 103.4L566.3 78.2M529.4 114.9L566.5 78.4M523.9 148.8L567.2 79.0M571.2 79.0L587.8 105.8M568.3 79.4L555.5 133.7M566.9 101.0L538.6 106.7M538.6 106.7L566.9 101.0M571.2 101.7L584.6 109.2M558.4 114.5L567.8 102.4M531.0 117.3L567.1 101.5M570.2 102.6L585.4 133.9M568.5 102.8L547.7 166.9M431.2 144.7L453.4 127.5M430.4 165.0L455.1 129.1M465.9 126.5L487.3 138.1M487.3 138.1L465.9 126.5M466.4 147.1L461.4 130.1M461.4 130.1L466.4 147.1M486.9 166.0L463.4 129.3M466.7 121.4L524.3 109.6M582.5 138.0L466.8 123.9M465.8 126.7L509.6 152.4M486.2 142.8L431.7 146.0M460.6 153.2L431.6 146.6M508.3 156.3L431.7 146.4M483.5 170.0L431.5 147.1M504.2 195.2L431.3 147.4M467.5 198.7L430.8 148.0M431.8 228.8L429.5 148.4M428.4 164.3L429.3 148.4M431.6 145.5L516.3 122.4M494.6 229.7L430.8 148.0M430.6 171.5L440.1 183.8M440.1 183.8L430.6 171.5M425.2 170.9L369.4 219.6M431.7 228.8L428.4 172.3M431.9 166.9L486.8 145.5M432.2 168.6L482.8 172.9M432.2 167.8L508.3 158.8M466.3 199.8L431.3 170.9M460.9 157.6L432.0 167.1M438.0 191.5L369.7 220.1M483.3 176.8L369.7 220.2M509.0 161.6L369.7 220.1M426.8 233.0L369.8 221.2M461.8 159.6L369.5 219.8M369.2 222.2L395.0 252.4M442.3 195.2L433.3 229.0M440.2 194.2L398.4 252.3M450.2 187.0L483.2 176.4M483.2 176.4L450.2 187.0M449.7 192.1L465.6 200.8M441.9 182.8L430.1 148.3M529.9 161.4L450.2 187.0M476.2 151.4L487.1 146.1M475.2 160.2L484.7 168.0M484.7 168.0L475.2 160.2M477.0 155.5L508.2 157.1M469.2 163.3L471.0 197.5M427.4 236.8L399.2 253.1M399.2 253.1L427.4 236.8M489.2 148.9L398.7 252.4M484.9 179.5L398.9 252.7M465.9 207.6L399.1 253.0M503.8 202.4L399.3 253.3M493.1 233.7L399.5 254.0M565.9 258.2L399.6 254.6M457.3 263.8L399.6 255.0M399.6 255.0L457.3 263.8M491.0 265.6L399.6 254.9M510.4 164.0L399.0 252.8M436.2 230.9L466.1 207.9M474.7 218.1L436.9 232.2M493.0 233.0L437.3 234.0M437.3 234.0L493.0 233.0M503.7 202.1L436.8 231.9M485.4 180.0L435.7 230.3M436.7 236.4L491.8 263.1M552.1 224.9L437.2 233.7M509.0 248.9L437.2 235.1M537.0 179.6L436.7 231.7M594.6 220.0L437.2 233.6M463.9 264.4L491.0 266.0M461.1 261.0L470.2 210.4M461.9 261.2L478.6 222.2M463.1 262.1L494.0 235.5M505.9 205.0L462.6 261.6M565.9 258.7L463.9 264.1M509.1 251.8L463.8 263.4M498.4 258.7L497.2 236.9M483.9 222.4L496.3 259.1M504.3 261.0L510.8 254.7M510.8 254.7L504.3 261.0M566.0 259.0L506.5 265.6M492.4 182.6L498.2 258.7M611.8 264.8L506.6 266.4M510.7 245.7L500.0 235.6M514.8 243.7L511.1 206.4M566.0 257.4L521.9 251.1M552.4 226.0L520.9 246.6M518.0 244.2L531.4 213.4M629.3 137.5L671.6 159.3M623.1 141.0L622.3 154.8M622.3 154.8L623.1 141.0M671.0 161.3L627.3 160.3M627.3 160.3L671.0 161.3M671.0 161.2L594.1 156.2M675.4 166.2L671.9 200.0M671.9 200.0L675.4 166.2M672.0 164.3L652.5 178.7M652.5 178.7L672.0 164.3M671.4 163.3L628.3 181.5M673.4 165.6L643.8 214.6M608.5 206.1L671.8 164.1M671.2 160.3L592.9 140.0M670.6 200.6L652.3 185.2M652.3 185.2L670.6 200.6M670.5 202.3L646.3 217.0M646.3 217.0L670.5 202.3M670.3 201.1L628.5 187.6M609.4 208.5L670.3 201.7M618.1 261.9L670.8 202.6M643.0 182.4L628.9 183.9M628.9 183.9L643.0 182.4M647.2 187.0L641.6 213.7M641.6 213.7L647.2 187.0M608.6 206.3L643.7 184.6M643.7 184.6L608.6 206.3M617.0 261.2L646.3 186.7M620.8 176.1L621.6 165.4M621.6 165.4L620.8 176.1M624.4 192.6L636.5 214.4M615.3 192.2L607.0 204.7M607.0 204.7L615.3 192.2M575.5 191.1L611.4 186.1M586.8 170.0L612.1 181.3M606.0 212.4L616.1 192.7M633.1 218.6L609.2 210.7M609.2 210.7L633.1 218.6M636.5 227.2L617.4 261.4M617.4 261.4L636.5 227.2M604.5 226.8L614.5 261.1M605.2 214.3L614.8 261.0M611.8 264.2L578.5 259.2M578.5 259.2L611.8 264.2M570.6 202.8L613.3 261.7M550.5 182.5L613.2 261.8M556.3 226.0L612.4 262.7M576.1 253.3L597.6 225.5M597.6 225.5L576.1 253.3M569.3 252.8L555.4 226.7M555.4 226.7L569.3 252.8M565.0 205.0L571.4 252.1M601.2 213.5L575.7 253.0M500.8 234.2L566.3 256.3M531.7 213.4L568.0 253.6M515.6 204.2L567.7 254.0M547.8 184.0L570.3 252.3M616.7 160.8L587.6 164.5M594.0 156.6L616.7 159.5M592.3 141.5L617.5 157.3M617.1 135.2L593.0 138.1M593.0 138.1L617.1 135.2M618.1 130.9L600.4 118.9M600.4 118.9L618.1 130.9M593.2 152.8L618.0 137.9M564.8 143.7L617.1 135.5M547.2 166.7L549.6 157.5M543.4 137.5L529.7 125.5M569.4 159.3L562.2 153.4M546.6 134.9L535.1 114.5M535.1 114.5L546.6 134.9M549.9 118.9L531.6 120.0M531.6 120.0L549.9 118.9M545.0 155.3L514.8 193.4M553.8 133.4L554.7 123.9M553.6 172.9L567.5 168.7M528.2 154.2L541.0 149.7M581.7 175.1L599.1 212.2M520.0 147.4L522.7 128.1M522.7 128.1L520.0 147.4M543.2 153.5L541.1 155.3M554.4 184.4L551.5 181.6M551.5 181.6L554.4 184.4M560.6 180.8L555.3 157.6M500.3 170.9L529.9 161.4M529.9 161.4L500.3 170.9M573.5 199.7L595.9 214.9M502.0 136.9L517.6 125.1M585.4 119.5L562.2 138.0M573.0 156.4L557.4 123.5M552.1 180.9L596.2 214.6M596.2 214.6L552.1 180.9M583.4 114.6L531.6 119.6M531.6 119.6L583.4 114.6M582.7 154.2L564.4 149.0M509.7 162.9L499.4 169.0M569.0 181.9L572.6 174.9M572.6 174.9L569.0 181.9M486.4 221.0L494.4 229.9M494.4 229.9L486.4 221.0M503.8 142.8L540.3 144.9M497.0 180.9L506.0 193.3M506.0 193.3L497.0 180.9M496.4 165.9L519.8 127.1M559.5 155.8L598.0 212.8M567.2 164.2L542.5 160.4M542.5 160.4L567.2 164.2M540.6 167.6L539.2 165.1M498.5 229.2L507.6 206.0M507.6 206.0L498.5 229.2M538.1 111.1L550.3 116.5M534.1 153.2L526.1 127.8M583.5 115.0L560.4 118.0M560.4 118.0L583.5 115.0M499.9 169.9L541.4 150.8M541.4 150.8L499.9 169.9M528.7 158.7L529.6 158.7M527.0 163.3L537.5 170.4M589.5 161.5L600.7 211.7M475.6 208.8L476.7 210.0M476.7 210.0L475.6 208.8M583.4 112.9L538.7 108.8M538.7 108.8L583.4 112.9M569.5 159.1L529.8 125.4M529.8 125.4L569.5 159.1M560.0 204.7L555.0 222.5M537.5 180.5L516.3 195.0M496.7 228.9L492.5 182.6M517.5 200.7L594.8 217.6M555.6 183.3L540.2 164.5M582.6 139.7L564.7 143.2M564.7 143.2L582.6 139.7M521.1 147.6L529.6 115.2M502.3 147.1L537.5 170.5M499.6 229.8L539.2 182.4M501.0 232.4L594.6 220.3M483.2 208.4L489.6 182.4M557.5 182.0L527.5 127.2M584.4 151.5L558.7 122.6M528.7 159.0L567.1 164.3M567.1 164.3L528.7 159.0M556.6 224.5L594.6 220.2M487.9 211.9L504.0 202.8M501.4 136.2L526.1 113.1M583.2 153.1L530.6 124.2M570.2 182.6L585.0 160.7M590.0 122.7L580.3 155.9M499.2 229.5L546.0 156.0M546.0 156.0L499.2 229.5M546.6 166.6L554.2 123.9M554.2 123.9L546.6 166.6M540.9 163.8L596.6 214.1M487.7 211.6L537.3 180.3M537.3 180.3L487.7 211.6M535.5 152.9L532.1 115.4M541.7 167.1L526.6 127.7M553.7 185.2L526.6 163.9M590.9 122.9L588.8 133.5M588.8 133.5L590.9 122.9M494.1 151.0L492.7 164.7M500.0 177.1L595.2 216.3M583.8 152.1L537.1 112.8M484.5 208.8L520.6 127.5M520.6 127.5L484.5 208.8M516.5 167.7L511.7 192.0M511.7 192.0L516.5 167.7M599.2 207.1L574.8 197.4M554.3 222.4L552.9 157.9M570.9 157.7L536.0 113.8M536.0 113.8L570.9 157.7M498.9 229.3L533.0 165.2M593.5 123.0L601.7 211.5M601.7 211.5L593.5 123.0M502.4 147.1L509.9 152.0M553.5 185.5L502.1 147.5M486.7 210.4L543.8 154.2M543.8 154.2L486.7 210.4M536.0 175.2L500.7 173.9M500.7 173.9L536.0 175.2M525.6 150.1L551.5 122.5M551.5 122.5L525.6 150.1M591.7 123.0L588.9 150.1M475.6 208.8L494.4 229.9M494.4 229.9L475.6 208.8M511.6 192.0L522.5 128.1M531.7 213.0L553.0 199.4M553.0 199.4L531.7 213.0M555.4 222.6L585.7 161.0M585.9 143.6L581.0 156.1M557.4 123.5L599.1 212.2M503.1 145.7L530.1 156.9M496.4 165.9L527.7 114.4M527.7 114.4L496.4 165.9M553.7 222.5L526.0 127.9M526.0 127.9L553.7 222.5M514.3 193.0L532.5 164.9M532.5 164.9L514.3 193.0M600.8 205.0L560.4 155.2M582.5 156.2L542.6 159.0M503.5 144.7L567.4 162.9M552.1 225.0L501.0 232.3M488.8 215.7L594.6 219.0M562.0 180.6L555.8 123.9M567.6 181.3L589.4 122.5M531.6 212.9L548.9 157.4M587.9 144.0L588.1 150.0M588.1 150.0L587.9 144.0M601.3 204.6L582.8 174.5M495.2 151.1L497.0 228.9M526.8 163.7L596.1 214.7M543.2 166.6L532.9 115.3M532.9 115.3L543.2 166.6M612.8 180.0L530.3 124.7M530.3 124.7L612.8 180.0M477.7 203.2L503.1 200.1M583.7 116.4L503.4 139.8M503.4 139.8L583.7 116.4M431.7 146.1L540.3 145.7M540.3 145.7L431.7 146.1M474.9 198.6L486.7 181.1M486.7 181.1L474.9 198.6M568.0 79.4L556.8 113.6M568.1 170.4L516.9 195.9M516.9 195.9L568.1 170.4M552.8 199.2L500.5 230.8M622.0 140.8L604.3 211.7M485.4 209.4L513.0 166.3M601.6 204.4L557.7 123.3M570.1 79.4L586.9 150.2M553.7 222.5L537.8 165.7M488.1 218.6L566.5 255.6M531.2 213.3L500.5 230.9M535.4 114.3L598.2 212.7M431.2 171.0L476.0 210.7M435.9 230.6L510.8 164.4M431.8 166.5L516.8 123.9M551.5 189.6L500.4 176.0M585.4 119.6L541.1 155.3M571.2 252.1L554.7 157.7M503.2 139.0L550.2 120.6M602.6 204.0L589.9 161.4M553.9 222.4L546.6 184.3M500.1 230.3L569.4 172.4M431.5 147.0L595.2 216.3" stroke="#7b7f81" stroke-width="1.1" fill="none"/>
<path d="M409.9 102.7L414.7 102.6L413.2 106.2ZM568.4 72.0L565.6 68.1L569.3 67.3ZM568.9 98.3L566.4 94.2L570.2 93.7ZM534.2 101.4L534.1 96.6L537.6 98.0ZM640.9 52.3L639.7 56.9L636.7 54.6ZM640.9 52.3L640.3 57.0L637.0 55.0ZM569.2 98.3L567.3 93.9L571.1 93.9ZM569.2 79.5L571.1 83.9L567.3 83.9ZM566.3 78.2L564.2 82.5L561.7 79.6ZM566.5 78.4L564.7 82.9L562.0 80.1ZM567.2 79.0L566.5 83.7L563.2 81.7ZM587.8 105.8L583.9 103.1L587.1 101.1ZM555.5 133.7L554.6 128.9L558.3 129.8ZM538.6 106.7L542.6 104.0L543.3 107.7ZM566.9 101.0L563.0 103.8L562.2 100.0ZM584.6 109.2L579.8 108.7L581.7 105.4ZM567.8 102.4L566.6 107.0L563.6 104.7ZM567.1 101.5L563.8 105.0L562.3 101.5ZM585.4 133.9L581.8 130.8L585.2 129.1ZM547.7 166.9L547.3 162.1L550.9 163.3ZM453.4 127.5L451.1 131.7L448.8 128.7ZM455.1 129.1L454.2 133.8L451.0 131.7ZM487.3 138.1L482.5 137.6L484.3 134.3ZM465.9 126.5L470.7 126.9L468.9 130.3ZM461.4 130.1L464.5 133.8L460.9 134.9ZM466.4 147.1L463.3 143.4L467.0 142.3ZM463.4 129.3L467.3 132.0L464.1 134.0ZM524.3 109.6L520.4 112.3L519.6 108.6ZM466.8 123.9L471.4 122.5L470.9 126.3ZM509.6 152.4L504.9 151.8L506.8 148.5ZM431.7 146.0L436.0 143.8L436.2 147.6ZM431.6 146.6L436.4 145.8L435.5 149.5ZM431.7 146.4L436.3 145.1L435.8 148.9ZM431.5 147.1L436.3 147.1L434.8 150.6ZM431.3 147.4L436.0 148.2L434.0 151.4ZM430.8 148.0L434.9 150.5L431.8 152.7ZM429.5 148.4L431.5 152.8L427.7 152.9ZM429.3 148.4L430.9 152.9L427.1 152.7ZM516.3 122.4L512.5 125.4L511.5 121.8ZM430.8 148.0L435.0 150.3L432.0 152.6ZM440.1 183.8L435.9 181.5L438.9 179.1ZM430.6 171.5L434.8 173.8L431.8 176.1ZM369.4 219.6L371.4 215.3L373.9 218.2ZM428.4 172.3L430.6 176.6L426.8 176.8ZM486.8 145.5L483.4 148.8L482.0 145.3ZM482.8 172.9L478.2 174.4L478.5 170.6ZM508.3 158.8L504.1 161.2L503.7 157.4ZM431.3 170.9L435.9 172.2L433.4 175.1ZM432.0 167.1L435.6 163.9L436.8 167.5ZM369.7 220.1L373.0 216.7L374.5 220.2ZM369.7 220.2L373.1 216.8L374.5 220.4ZM369.7 220.1L373.0 216.7L374.5 220.2ZM369.8 221.2L374.5 220.2L373.7 223.9ZM369.5 219.8L372.2 215.8L374.2 219.0ZM395.0 252.4L390.7 250.3L393.6 247.8ZM433.3 229.0L432.6 224.2L436.3 225.2ZM398.4 252.3L399.5 247.6L402.6 249.8ZM483.2 176.4L479.6 179.5L478.4 175.9ZM450.2 187.0L453.8 183.8L455.0 187.4ZM465.6 200.8L460.8 200.4L462.7 197.0ZM430.1 148.3L433.4 151.9L429.8 153.1ZM450.2 187.0L453.8 183.8L455.0 187.4ZM487.1 146.1L484.0 149.7L482.3 146.3ZM484.7 168.0L480.1 166.7L482.5 163.7ZM475.2 160.2L479.8 161.5L477.4 164.5ZM508.2 157.1L503.7 158.7L503.9 154.9ZM471.0 197.5L468.8 193.2L472.6 193.0ZM399.2 253.1L402.1 249.3L404.0 252.6ZM427.4 236.8L424.5 240.6L422.6 237.3ZM398.7 252.4L400.1 247.9L403.0 250.4ZM398.9 252.7L401.1 248.4L403.5 251.3ZM399.1 253.0L401.7 248.9L403.8 252.1ZM399.3 253.3L402.4 249.7L404.1 253.1ZM399.5 254.0L403.4 251.2L404.3 254.9ZM399.6 254.6L404.1 252.8L404.0 256.6ZM399.6 255.0L404.2 253.7L403.6 257.5ZM457.3 263.8L452.7 265.0L453.2 261.2ZM399.6 254.9L404.2 253.5L403.7 257.3ZM399.0 252.8L401.3 248.6L403.6 251.5ZM466.1 207.9L463.8 212.1L461.5 209.1ZM436.9 232.2L440.4 228.9L441.7 232.5ZM437.3 234.0L441.6 232.0L441.7 235.8ZM493.0 233.0L488.7 234.9L488.6 231.1ZM436.8 231.9L440.0 228.4L441.6 231.9ZM435.7 230.3L437.4 225.9L440.1 228.5ZM491.8 263.1L487.0 262.9L488.6 259.5ZM437.2 233.7L441.5 231.5L441.8 235.3ZM437.2 235.1L441.8 234.1L441.1 237.8ZM436.7 231.7L439.7 228.0L441.4 231.3ZM437.2 233.6L441.5 231.4L441.8 235.2ZM491.0 266.0L486.5 267.7L486.7 263.9ZM470.2 210.4L471.3 215.0L467.5 214.4ZM478.6 222.2L478.6 227.0L475.1 225.5ZM494.0 235.5L491.9 239.8L489.4 236.9ZM462.6 261.6L463.7 257.0L466.8 259.3ZM463.9 264.1L468.2 261.9L468.4 265.7ZM463.8 263.4L467.6 260.5L468.5 264.2ZM497.2 236.9L499.4 241.2L495.6 241.4ZM496.3 259.1L493.1 255.5L496.7 254.3ZM510.8 254.7L509.0 259.1L506.3 256.4ZM504.3 261.0L506.2 256.6L508.8 259.3ZM506.5 265.6L510.7 263.3L511.1 267.0ZM498.2 258.7L496.0 254.5L499.7 254.2ZM506.6 266.4L510.9 264.4L511.0 268.2ZM500.0 235.6L504.5 237.2L501.9 240.0ZM511.1 206.4L513.4 210.6L509.6 211.0ZM521.9 251.1L526.5 249.8L525.9 253.6ZM520.9 246.6L523.5 242.6L525.6 245.8ZM531.4 213.4L531.3 218.2L527.9 216.7ZM671.6 159.3L666.8 158.9L668.5 155.6ZM622.3 154.8L620.7 150.3L624.5 150.6ZM623.1 141.0L624.8 145.5L621.0 145.3ZM627.3 160.3L631.7 158.5L631.6 162.3ZM671.0 161.3L666.6 163.1L666.7 159.3ZM594.1 156.2L598.6 154.6L598.3 158.4ZM671.9 200.0L670.5 195.5L674.2 195.8ZM675.4 166.2L676.8 170.8L673.0 170.4ZM652.5 178.7L654.9 174.5L657.2 177.6ZM672.0 164.3L669.6 168.5L667.3 165.4ZM628.3 181.5L631.6 178.0L633.1 181.5ZM643.8 214.6L644.5 209.8L647.7 211.8ZM671.8 164.1L669.2 168.1L667.1 165.0ZM592.9 140.0L597.6 139.3L596.7 142.9ZM652.3 185.2L656.9 186.6L654.5 189.5ZM670.6 200.6L666.0 199.2L668.5 196.3ZM646.3 217.0L649.1 213.1L651.1 216.4ZM670.5 202.3L667.7 206.2L665.7 203.0ZM628.5 187.6L633.3 187.1L632.1 190.7ZM670.3 201.7L666.1 204.1L665.7 200.3ZM670.8 202.6L669.3 207.2L666.4 204.7ZM628.9 183.9L633.1 181.5L633.5 185.3ZM643.0 182.4L638.8 184.7L638.4 181.0ZM641.6 213.7L640.6 209.0L644.3 209.8ZM647.2 187.0L648.1 191.7L644.4 190.9ZM643.7 184.6L641.0 188.5L639.0 185.3ZM608.6 206.3L611.4 202.4L613.4 205.6ZM646.3 186.7L646.5 191.5L642.9 190.1ZM621.6 165.4L623.2 170.0L619.4 169.7ZM620.8 176.1L619.2 171.6L623.0 171.8ZM636.5 214.4L632.7 211.5L636.1 209.7ZM607.0 204.7L607.9 199.9L611.1 202.0ZM615.3 192.2L614.4 196.9L611.3 194.8ZM611.4 186.1L607.3 188.6L606.8 184.8ZM612.1 181.3L607.3 181.2L608.9 177.7ZM616.1 192.7L615.8 197.5L612.4 195.7ZM609.2 210.7L613.9 210.3L612.7 213.9ZM633.1 218.6L628.4 219.0L629.5 215.4ZM617.4 261.4L617.9 256.7L621.2 258.5ZM636.5 227.2L636.0 232.0L632.7 230.1ZM614.5 261.1L611.4 257.4L615.1 256.4ZM614.8 261.0L612.0 257.1L615.8 256.3ZM578.5 259.2L583.1 258.0L582.5 261.8ZM611.8 264.2L607.2 265.4L607.7 261.7ZM613.3 261.7L609.2 259.2L612.3 257.0ZM613.2 261.8L609.0 259.5L612.0 257.1ZM612.4 262.7L607.7 261.9L609.7 258.7ZM597.6 225.5L596.4 230.1L593.4 227.8ZM576.1 253.3L577.3 248.7L580.3 251.0ZM555.4 226.7L559.2 229.7L555.8 231.5ZM569.3 252.8L565.5 249.8L568.9 248.0ZM571.4 252.1L568.9 248.0L572.7 247.5ZM575.7 253.0L576.5 248.3L579.6 250.4ZM566.3 256.3L561.5 256.7L562.7 253.1ZM568.0 253.6L563.7 251.7L566.5 249.1ZM567.7 254.0L563.2 252.3L565.8 249.6ZM570.3 252.3L567.1 248.8L570.7 247.6ZM587.6 164.5L591.7 162.0L592.2 165.8ZM616.7 159.5L612.1 160.8L612.6 157.0ZM617.5 157.3L612.8 156.6L614.8 153.4ZM593.0 138.1L597.2 135.7L597.6 139.4ZM617.1 135.2L612.9 137.6L612.5 133.9ZM600.4 118.9L605.1 119.8L603.0 123.0ZM618.1 130.9L613.4 130.0L615.5 126.8ZM618.0 137.9L615.2 141.8L613.2 138.5ZM617.1 135.5L613.1 138.1L612.5 134.3ZM549.6 157.5L550.3 162.3L546.6 161.3ZM529.7 125.5L534.2 127.0L531.7 129.9ZM562.2 153.4L566.8 154.7L564.4 157.6ZM535.1 114.5L538.9 117.4L535.6 119.3ZM546.6 134.9L542.8 132.0L546.1 130.1ZM531.6 120.0L535.9 117.8L536.1 121.6ZM549.9 118.9L545.6 121.1L545.4 117.3ZM514.8 193.4L516.1 188.8L519.1 191.2ZM554.7 123.9L556.2 128.5L552.4 128.1ZM567.5 168.7L563.8 171.8L562.7 168.2ZM541.0 149.7L537.5 152.9L536.2 149.4ZM599.1 212.2L595.5 209.0L598.9 207.4ZM522.7 128.1L524.0 132.7L520.2 132.2ZM520.0 147.4L518.7 142.8L522.5 143.3ZM541.1 155.3L543.2 151.0L545.7 153.9ZM551.5 181.6L556.0 183.3L553.4 186.0ZM554.4 184.4L549.9 182.7L552.5 180.0ZM555.3 157.6L558.2 161.5L554.5 162.3ZM529.9 161.4L526.3 164.6L525.1 160.9ZM500.3 170.9L503.9 167.7L505.1 171.3ZM595.9 214.9L591.2 214.0L593.3 210.9ZM517.6 125.1L515.2 129.3L512.9 126.3ZM562.2 138.0L564.5 133.7L566.9 136.7ZM557.4 123.5L561.0 126.6L557.6 128.2ZM596.2 214.6L591.5 213.4L593.8 210.4ZM552.1 180.9L556.8 182.1L554.5 185.1ZM531.6 119.6L535.8 117.3L536.1 121.1ZM583.4 114.6L579.2 117.0L578.9 113.2ZM564.4 149.0L569.2 148.4L568.2 152.1ZM499.4 169.0L502.2 165.1L504.2 168.4ZM572.6 174.9L572.3 179.7L568.9 177.9ZM569.0 181.9L569.3 177.1L572.7 178.9ZM494.4 229.9L490.0 227.9L492.9 225.4ZM486.4 221.0L490.7 223.0L487.9 225.5ZM540.3 144.9L535.8 146.5L536.1 142.8ZM506.0 193.3L501.9 190.8L505.0 188.6ZM497.0 180.9L501.2 183.3L498.1 185.6ZM519.8 127.1L519.1 131.8L515.9 129.9ZM598.0 212.8L594.0 210.2L597.1 208.1ZM542.5 160.4L547.1 159.2L546.6 163.0ZM567.2 164.2L562.5 165.4L563.1 161.6ZM539.2 165.1L543.0 168.0L539.7 169.9ZM507.6 206.0L507.8 210.7L504.3 209.4ZM498.5 229.2L498.4 224.4L501.9 225.8ZM550.3 116.5L545.5 116.5L547.1 113.0ZM526.1 127.8L529.3 131.5L525.7 132.6ZM560.4 118.0L564.5 115.5L565.0 119.3ZM583.5 115.0L579.3 117.4L578.8 113.6ZM541.4 150.8L538.2 154.3L536.7 150.9ZM499.9 169.9L503.1 166.3L504.7 169.8ZM529.6 158.7L525.0 160.2L525.4 156.4ZM537.5 170.4L532.8 169.5L534.9 166.4ZM600.7 211.7L597.9 207.8L601.6 207.0ZM476.7 210.0L472.3 208.0L475.2 205.5ZM475.6 208.8L479.9 210.9L477.1 213.4ZM538.7 108.8L543.3 107.3L542.9 111.1ZM583.4 112.9L578.9 114.4L579.2 110.6ZM529.8 125.4L534.3 126.8L531.9 129.7ZM569.5 159.1L564.9 157.7L567.4 154.8ZM555.0 222.5L554.3 217.7L558.0 218.8ZM516.3 195.0L518.9 191.0L521.1 194.1ZM492.5 182.6L494.8 186.8L491.0 187.1ZM594.8 217.6L590.1 218.5L590.9 214.8ZM540.2 164.5L544.4 166.7L541.5 169.1ZM564.7 143.2L568.6 140.5L569.4 144.3ZM582.6 139.7L578.6 142.4L577.9 138.7ZM529.6 115.2L530.3 119.9L526.7 119.0ZM537.5 170.5L532.7 169.6L534.9 166.5ZM539.2 182.4L537.8 187.0L534.9 184.5ZM594.6 220.3L590.5 222.7L590.0 219.0ZM489.6 182.4L490.4 187.1L486.7 186.2ZM527.5 127.2L531.3 130.2L528.0 132.0ZM558.7 122.6L563.0 124.6L560.2 127.2ZM567.1 164.3L562.5 165.6L563.0 161.9ZM528.7 159.0L533.3 157.7L532.8 161.5ZM594.6 220.2L590.5 222.5L590.0 218.8ZM504.0 202.8L501.1 206.6L499.2 203.3ZM526.1 113.1L524.2 117.5L521.6 114.7ZM530.6 124.2L535.4 124.6L533.6 127.9ZM585.0 160.7L584.2 165.4L581.0 163.2ZM580.3 155.9L579.7 151.1L583.3 152.2ZM546.0 156.0L545.3 160.7L542.0 158.7ZM499.2 229.5L500.0 224.8L503.2 226.8ZM554.2 123.9L555.3 128.5L551.6 127.9ZM546.6 166.6L545.5 161.9L549.2 162.6ZM596.6 214.1L592.0 212.5L594.6 209.7ZM537.3 180.3L534.6 184.2L532.6 181.0ZM487.7 211.6L490.4 207.7L492.4 210.9ZM532.1 115.4L534.4 119.6L530.6 120.0ZM526.6 127.7L530.0 131.1L526.4 132.5ZM526.6 163.9L531.2 165.2L528.9 168.2ZM588.8 133.5L587.8 128.8L591.5 129.5ZM590.9 122.9L591.9 127.6L588.2 126.8ZM492.7 164.7L491.2 160.1L495.0 160.5ZM595.2 216.3L590.4 216.4L591.8 212.9ZM537.1 112.8L541.7 114.2L539.2 117.1ZM520.6 127.5L520.6 132.3L517.1 130.8ZM484.5 208.8L484.5 204.1L488.0 205.6ZM511.7 192.0L510.7 187.3L514.4 188.1ZM516.5 167.7L517.5 172.4L513.8 171.6ZM574.8 197.4L579.6 197.2L578.2 200.8ZM552.9 157.9L554.9 162.3L551.1 162.4ZM536.0 113.8L540.2 116.1L537.3 118.5ZM570.9 157.7L566.7 155.4L569.7 153.1ZM533.0 165.2L532.6 169.9L529.3 168.2ZM601.7 211.5L599.4 207.3L603.2 207.0ZM593.5 123.0L595.8 127.2L592.0 127.6ZM509.9 152.0L505.1 151.1L507.2 148.0ZM502.1 147.5L506.7 148.6L504.5 151.6ZM543.8 154.2L542.0 158.7L539.4 156.0ZM486.7 210.4L488.5 206.0L491.2 208.7ZM500.7 173.9L505.2 172.2L505.1 176.0ZM536.0 175.2L531.5 176.9L531.6 173.1ZM551.5 122.5L549.9 127.0L547.1 124.4ZM525.6 150.1L527.2 145.6L530.0 148.2ZM588.9 150.1L587.4 145.5L591.2 145.9ZM494.4 229.9L490.0 227.9L492.9 225.3ZM475.6 208.8L480.0 210.8L477.1 213.4ZM522.5 128.1L523.6 132.7L519.9 132.1ZM553.0 199.4L550.3 203.4L548.2 200.2ZM531.7 213.0L534.4 209.0L536.5 212.2ZM585.7 161.0L585.5 165.8L582.1 164.2ZM581.0 156.1L580.9 151.4L584.4 152.7ZM599.1 212.2L595.5 209.1L598.9 207.4ZM530.1 156.9L525.3 157.0L526.7 153.5ZM527.7 114.4L527.0 119.1L523.8 117.1ZM496.4 165.9L497.1 161.2L500.3 163.2ZM526.0 127.9L529.1 131.6L525.4 132.6ZM553.7 222.5L550.7 218.8L554.3 217.7ZM532.5 164.9L531.7 169.6L528.5 167.5ZM514.3 193.0L515.1 188.3L518.3 190.4ZM560.4 155.2L564.6 157.4L561.7 159.8ZM542.6 159.0L546.8 156.8L547.1 160.6ZM567.4 162.9L562.7 163.5L563.7 159.9ZM501.0 232.3L505.1 229.8L505.6 233.6ZM594.6 219.0L590.1 220.8L590.2 217.0ZM555.8 123.9L558.1 128.1L554.3 128.5ZM589.4 122.5L589.7 127.3L586.1 125.9ZM548.9 157.4L549.4 162.1L545.8 161.0ZM588.1 150.0L586.1 145.7L589.9 145.6ZM587.9 144.0L590.0 148.3L586.2 148.4ZM582.8 174.5L586.7 177.3L583.5 179.3ZM497.0 228.9L495.0 224.5L498.8 224.4ZM596.1 214.7L591.4 213.6L593.7 210.5ZM532.9 115.3L535.6 119.2L531.9 120.0ZM543.2 166.6L540.5 162.7L544.2 161.9ZM530.3 124.7L535.0 125.6L532.9 128.8ZM612.8 180.0L608.1 179.1L610.2 175.9ZM503.1 200.1L498.9 202.5L498.5 198.7ZM503.4 139.8L507.1 136.7L508.2 140.4ZM583.7 116.4L580.1 119.4L579.0 115.8ZM540.3 145.7L535.9 147.6L535.9 143.8ZM431.7 146.1L436.1 144.2L436.1 148.0ZM486.7 181.1L485.8 185.8L482.7 183.7ZM474.9 198.6L475.8 193.9L479.0 196.0ZM556.8 113.6L556.4 108.8L560.0 110.0ZM516.9 195.9L519.9 192.2L521.6 195.6ZM568.1 170.4L565.0 174.0L563.3 170.6ZM500.5 230.8L503.2 226.9L505.2 230.2ZM604.3 211.7L603.5 207.0L607.2 207.9ZM513.0 166.3L512.2 171.0L509.0 168.9ZM557.7 123.3L561.5 126.3L558.1 128.1ZM586.9 150.2L584.1 146.4L587.8 145.5ZM537.8 165.7L540.8 169.4L537.2 170.4ZM566.5 255.6L561.8 255.5L563.4 252.0ZM500.5 230.9L503.4 227.1L505.3 230.4ZM598.2 212.7L594.2 210.0L597.4 208.0ZM476.0 210.7L471.5 209.2L474.0 206.3ZM510.8 164.4L508.7 168.7L506.2 165.9ZM516.8 123.9L513.8 127.6L512.1 124.2ZM500.4 176.0L505.2 175.3L504.2 178.9ZM541.1 155.3L543.4 151.1L545.7 154.1ZM554.7 157.7L557.4 161.8L553.6 162.4ZM550.2 120.6L546.8 124.0L545.5 120.4ZM589.9 161.4L593.0 165.1L589.4 166.2ZM546.6 184.3L549.3 188.3L545.6 189.0ZM569.4 172.4L567.3 176.6L564.8 173.7ZM595.2 216.3L590.4 216.3L591.9 212.8Z" fill="#7b7f81" stroke="none"/>
<circle cx="459.3" cy="122.9" r="7.2" fill="rgb(70,165,102)"/>
<circle cx="569.2" cy="75.7" r="3.5" fill="rgb(0,133,103)"/>
<circle cx="569.2" cy="100.6" r="2.0" fill="rgb(0,133,103)"/>
<circle cx="592.7" cy="113.8" r="9.0" fill="rgb(125,190,102)"/>
<circle cx="623.5" cy="134.5" r="6.2" fill="rgb(45,154,103)"/>
<circle cx="531.5" cy="108.1" r="7.0" fill="rgb(65,163,102)"/>
<circle cx="523.8" cy="120.4" r="7.5" fill="rgb(79,169,102)"/>
<circle cx="555.2" cy="118.7" r="5.0" fill="rgb(20,142,103)"/>
<circle cx="587.8" cy="138.7" r="5.0" fill="rgb(20,142,103)"/>
<circle cx="368.0" cy="220.8" r="1.5" fill="rgb(0,133,103)"/>
<circle cx="396.8" cy="254.5" r="2.5" fill="rgb(0,133,103)"/>
<circle cx="432.0" cy="234.1" r="5.0" fill="rgb(20,142,103)"/>
<circle cx="460.6" cy="264.2" r="3.0" fill="rgb(0,133,103)"/>
<circle cx="498.8" cy="266.5" r="7.5" fill="rgb(79,169,102)"/>
<circle cx="429.4" cy="146.1" r="2.0" fill="rgb(0,133,103)"/>
<circle cx="428.2" cy="168.3" r="3.7" fill="rgb(0,133,103)"/>
<circle cx="444.0" cy="188.9" r="6.2" fill="rgb(45,154,103)"/>
<circle cx="468.7" cy="155.0" r="8.0" fill="rgb(93,176,102)"/>
<circle cx="495.0" cy="142.3" r="8.5" fill="rgb(109,183,102)"/>
<circle cx="491.7" cy="173.6" r="8.7" fill="rgb(115,186,102)"/>
<circle cx="471.3" cy="204.0" r="6.2" fill="rgb(45,154,103)"/>
<circle cx="481.5" cy="215.5" r="7.0" fill="rgb(65,163,102)"/>
<circle cx="510.3" cy="199.2" r="7.0" fill="rgb(65,163,102)"/>
<circle cx="497.0" cy="232.9" r="3.7" fill="rgb(0,133,103)"/>
<circle cx="515.4" cy="250.1" r="6.2" fill="rgb(45,154,103)"/>
<circle cx="518.5" cy="157.6" r="10.0" fill="rgb(126,191,102)"/>
<circle cx="675.8" cy="161.5" r="4.5" fill="rgb(11,138,103)"/>
<circle cx="671.8" cy="201.5" r="1.2" fill="rgb(0,133,103)"/>
<circle cx="615.6" cy="264.8" r="3.5" fill="rgb(0,133,103)"/>
<circle cx="572.2" cy="258.3" r="6.0" fill="rgb(41,152,103)"/>
<circle cx="640.1" cy="220.8" r="7.0" fill="rgb(65,163,102)"/>
<circle cx="648.3" cy="181.8" r="5.0" fill="rgb(20,142,103)"/>
<circle cx="620.2" cy="184.9" r="8.5" fill="rgb(109,183,102)"/>
<circle cx="622.0" cy="160.1" r="5.0" fill="rgb(20,142,103)"/>
<circle cx="604.1" cy="209.1" r="5.0" fill="rgb(20,142,103)"/>
<circle cx="602.4" cy="219.3" r="7.5" fill="rgb(79,169,102)"/>
<circle cx="554.4" cy="224.7" r="2.0" fill="rgb(0,133,103)"/>
<circle cx="563.3" cy="192.8" r="12.0" fill="rgb(229,233,100)"/>
<circle cx="545.0" cy="175.5" r="8.7" fill="rgb(88,173,102)"/>
<circle cx="577.3" cy="165.8" r="10.0" fill="rgb(156,203,101)"/>
<circle cx="588.3" cy="155.8" r="5.5" fill="rgb(30,147,103)"/>
<circle cx="536.1" cy="159.4" r="6.2" fill="rgb(45,154,103)"/>
<circle cx="552.6" cy="145.6" r="12.0" fill="rgb(203,222,100)"/>
<g font-size="8.9" text-anchor="middle" fill="#111">
<text x="409.6" y="105.6">234</text>
<text x="459.3" y="125.9">108</text>
<text x="560.8" y="39.0">162</text>
<text x="641.1" y="55.0">1116</text>
<text x="569.2" y="78.7">612</text>
<text x="569.2" y="103.6">594</text>
<text x="592.7" y="116.8">144</text>
<text x="623.5" y="137.5">90</text>
<text x="531.5" y="111.1">324</text>
<text x="523.8" y="123.4">270</text>
<text x="555.2" y="121.7">396</text>
<text x="587.8" y="141.7">828</text>
<text x="368.0" y="223.8">180</text>
<text x="396.8" y="257.5">360</text>
<text x="432.0" y="237.1">630</text>
<text x="460.6" y="267.2">522</text>
<text x="498.8" y="269.5">702</text>
<text x="429.4" y="149.1">216</text>
<text x="428.2" y="171.3">252</text>
<text x="444.0" y="191.9">450</text>
<text x="468.7" y="158.0">126</text>
<text x="495.0" y="145.3">288</text>
<text x="491.7" y="176.6">558</text>
<text x="471.3" y="207.0">576</text>
<text x="481.5" y="218.5">738</text>
<text x="510.3" y="202.2">414</text>
<text x="497.0" y="235.9">810</text>
<text x="515.4" y="253.1">792</text>
<text x="518.5" y="160.6">756</text>
<text x="675.8" y="164.5">864</text>
<text x="671.8" y="204.5">648</text>
<text x="615.6" y="267.8">1134</text>
<text x="572.2" y="261.3">432</text>
<text x="640.1" y="223.8">666</text>
<text x="648.3" y="184.8">378</text>
<text x="620.2" y="187.9">684</text>
<text x="622.0" y="163.1">1026</text>
<text x="604.1" y="212.1">774</text>
<text x="602.4" y="222.3">846</text>
<text x="554.4" y="227.7">720</text>
<text x="531.5" y="216.2">306</text>
<text x="563.3" y="195.8">468</text>
<text x="545.0" y="178.5">504</text>
<text x="577.3" y="168.8">540</text>
<text x="588.3" y="158.8">486</text>
<text x="536.1" y="162.4">342</text>
<text x="552.6" y="148.6">198</text>
</g>
<text x="522.4" y="8.3" font-size="9.8" text-anchor="middle" fill="#1a1a1a">Betweenness Centrality</text>
</g>
<g>
<path d="M90.4 412.9L59.3 400.2M199.3 332.0L205.2 360.0M199.2 332.0L206.1 384.7M199.1 332.0L174.8 391.6M237.4 398.9L271.4 355.5M231.5 422.6L272.4 356.2M207.4 381.4L207.4 384.6M207.4 384.6L207.4 381.4M179.2 394.8L199.2 377.6M171.8 405.7L199.7 378.2M163.7 441.1L201.7 379.8M213.1 379.8L224.5 398.2M204.9 381.1L193.9 427.5M197.3 396.9L181.8 400.0M181.8 400.0L197.3 396.9M216.4 399.9L220.5 402.3M200.6 403.7L201.1 403.0M174.3 409.4L198.0 399.0M211.9 404.2L220.6 422.0M204.2 404.7L187.5 456.5M78.7 433.2L91.8 423.1M74.9 453.1L94.1 425.3M109.0 421.7L124.9 430.3M124.9 430.3L109.0 421.7M106.3 438.8L102.8 426.7M102.8 426.7L106.3 438.8M125.2 456.5L105.4 425.5M110.0 414.7L159.2 404.6M214.4 430.8L110.1 418.1M108.8 422.0L148.0 445.0M123.5 436.4L80.9 438.9M99.5 446.0L80.6 441.8M146.6 449.3L80.8 440.8M120.8 461.6L80.0 443.7M140.8 485.5L79.2 445.1M105.6 487.8L76.6 447.8M72.8 514.8L70.9 449.8M69.9 451.4L70.0 449.8M80.5 436.8L151.1 417.5M129.5 515.1L76.9 447.6M75.4 469.0L79.2 474.0M79.2 474.0L75.4 469.0M62.0 467.6L18.3 505.8M72.5 514.8L70.0 471.0M78.5 457.6L124.3 439.8M79.2 462.0L119.8 465.4M79.1 460.0L146.6 452.0M103.7 489.5L77.0 467.4M99.8 451.2L78.7 458.2M76.3 485.0L20.0 508.6M120.6 470.6L20.1 508.9M147.4 455.1L20.0 508.6M62.5 523.4L20.6 514.7M100.9 453.6L19.1 507.0M17.2 520.4L31.7 537.4M82.5 490.4L75.9 515.2M79.5 488.9L45.0 536.8M93.8 478.6L120.4 470.0M120.4 470.0L93.8 478.6M93.0 485.9L102.6 491.1M81.9 472.6L73.9 449.2M164.2 456.0L93.8 478.6M117.9 443.9L124.6 440.6M116.7 454.4L122.4 459.0M122.4 459.0L116.7 454.4M118.9 448.7L146.5 450.1M109.6 458.0L111.1 485.8M63.8 531.0L48.0 540.2M48.0 540.2L63.8 531.0M127.4 444.2L45.8 537.5M122.6 474.1L46.9 538.6M103.1 501.9L47.6 539.5M140.1 496.1L48.4 540.9M125.3 526.9L49.3 543.3M199.6 549.1L49.5 545.8M91.9 553.7L49.4 547.2M49.4 547.2L91.9 553.7M128.3 556.1L49.4 546.9M149.0 457.7L47.1 538.9M81.7 519.0L103.4 502.4M112.0 511.0L83.2 521.8M125.0 524.6L83.9 525.4M83.9 525.4L125.0 524.6M139.9 495.8L83.0 521.2M123.3 474.8L80.7 517.9M82.8 530.3L129.2 552.8M182.1 517.2L83.9 524.8M145.7 539.5L83.7 527.6M172.8 473.9L82.7 520.6M228.1 512.1L83.9 524.7M110.4 555.6L128.2 556.7M102.7 545.9L109.8 506.2M104.8 546.6L117.5 516.9M108.2 549.0L127.9 532.1M143.2 500.0L106.7 547.7M199.6 549.9L110.4 554.6M145.8 543.6L110.1 552.8M138.0 547.0L137.4 536.2M124.9 517.2L135.2 547.5M145.9 550.1L148.2 547.8M148.2 547.8L145.9 550.1M199.7 550.5L148.7 556.2M132.5 478.2L137.7 547.0M242.0 555.8L148.8 557.1M148.0 534.9L145.4 532.5M153.9 532.0L150.9 502.1M199.7 547.8L164.0 542.6M183.9 522.3L162.6 536.2M158.5 532.8L166.4 514.5M269.9 432.9L302.6 449.8M260.0 438.6L259.7 442.9M259.7 442.9L260.0 438.6M301.5 454.2L269.4 453.5M269.4 453.5L301.5 454.2M301.5 453.8L237.4 449.7M310.8 464.7L308.8 484.0M308.8 484.0L310.8 464.7M303.5 460.6L293.5 468.0M293.5 468.0L303.5 460.6M302.3 458.5L267.3 473.2M306.5 463.3L281.9 504.2M250.6 495.1L303.2 460.2M301.8 451.9L236.5 435.0M300.3 487.4L293.1 481.3M293.1 481.3L300.3 487.4M299.4 498.8L285.2 507.5M285.2 507.5L299.4 498.8M298.5 490.7L267.6 480.7M252.3 499.9L298.1 494.8M260.0 547.5L301.3 501.0M274.1 475.6L268.0 476.2M268.0 476.2L274.1 475.6M282.6 485.0L278.8 503.0M278.8 503.0L282.6 485.0M250.8 495.4L275.6 480.1M275.6 480.1L250.8 495.4M256.8 545.6L280.8 484.4M258.1 466.6L258.3 463.5M258.3 463.5L258.1 466.6M262.5 486.8L272.1 504.0M251.3 486.4L247.6 492.1M247.6 492.1L251.3 486.4M213.4 483.6L246.6 478.9M226.6 463.7L247.4 473.0M245.3 500.6L252.3 487.0M267.5 509.6L251.9 504.5M251.9 504.5L267.5 509.6M272.0 521.2L258.1 546.2M258.1 546.2L272.0 521.2M243.2 522.4L249.8 545.2M243.8 511.7L250.6 545.0M242.1 554.0L221.1 550.9M221.1 550.9L242.1 554.0M208.6 494.7L246.5 546.9M191.3 477.8L246.1 547.1M201.9 522.3L243.8 549.7M217.0 540.8L232.7 520.4M232.7 520.4L217.0 540.8M205.3 539.8L198.0 525.9M198.0 525.9L205.3 539.8M203.3 496.9L208.9 538.6M235.7 510.2L216.3 540.2M148.0 528.2L200.2 545.8M177.4 512.7L203.2 541.3M157.6 498.9L202.6 541.8M187.5 479.9L207.0 539.0M248.9 454.5L227.6 457.2M237.3 450.4L248.9 451.9M235.2 438.2L250.4 447.7M250.2 429.3L236.8 430.9M236.8 430.9L250.2 429.3M251.9 422.2L239.8 414.1M239.8 414.1L251.9 422.2M235.8 443.1L251.6 433.5M202.9 437.2L250.2 429.7M186.8 456.3L188.3 450.4M182.3 431.2L172.3 422.4M205.9 450.9L200.4 446.4M185.4 428.7L176.1 412.3M176.1 412.3L185.4 428.7M182.4 413.2L175.3 413.6M175.3 413.6L182.4 413.2M183.9 448.3L156.5 482.9M192.3 427.3L192.6 423.8M195.5 464.7L203.6 462.2M168.5 447.0L180.1 442.9M220.6 469.8L234.9 500.4M159.4 439.5L161.3 426.5M161.3 426.5L159.4 439.5M193.1 477.1L192.6 476.6M192.6 476.6L193.1 477.1M199.1 473.7L193.8 450.5M142.8 462.8L164.2 455.9M164.2 455.9L142.8 462.8M211.5 491.8L230.1 504.5M143.8 428.9L153.2 421.7M221.6 414.8L200.4 431.7M210.2 447.6L198.5 422.8M193.5 475.7L230.5 503.9M230.5 503.9L193.5 475.7M219.2 408.9L175.2 413.1M175.2 413.1L219.2 408.9M215.2 445.9L202.5 442.3M148.1 456.5L141.7 460.3M207.1 474.7L209.8 469.6M209.8 469.6L207.1 474.7M128.5 515.1L128.9 515.6M128.9 515.6L128.5 515.1M146.1 436.4L179.4 438.3M138.5 475.9L143.4 482.7M143.4 482.7L138.5 475.9M137.7 456.3L156.7 424.8M197.8 448.8L233.3 501.3M203.2 456.8L186.2 454.2M186.2 454.2L203.2 456.8M141.1 513.4L145.8 501.4M145.8 501.4L141.1 513.4M181.0 407.0L183.4 408.0M171.6 441.7L166.7 426.0M219.2 409.3L204.9 411.1M204.9 411.1L219.2 409.3M142.3 461.5L180.5 443.9M180.5 443.9L142.3 461.5M167.2 457.0L173.5 461.3M228.6 460.0L237.3 499.6M219.1 406.8L182.0 403.4M182.0 403.4L219.1 406.8M206.0 450.7L172.4 422.3M172.4 422.3L206.0 450.7M198.5 496.6L195.8 506.0M173.5 475.1L158.7 485.3M135.7 512.6L132.7 478.2M160.4 493.7L228.4 508.6M194.2 476.1L182.1 461.3M214.5 434.4L202.8 436.7M202.8 436.7L214.5 434.4M160.7 439.8L167.6 413.4M144.2 442.0L173.5 461.4M144.4 515.3L175.8 477.6M148.5 522.9L228.2 512.6M124.0 497.4L128.8 477.9M196.0 474.8L168.9 425.1M218.6 440.6L201.2 421.0M169.0 452.3L203.2 457.0M203.2 457.0L169.0 452.3M203.6 515.2L228.2 512.4M130.6 502.3L140.4 496.7M143.1 428.0L162.1 410.2M216.2 443.6L173.8 420.2M208.3 475.4L219.8 458.4M227.2 418.6L218.9 446.9M143.1 514.4L184.9 449.0M184.9 449.0L143.1 514.4M185.9 456.1L191.7 423.7M191.7 423.7L185.9 456.1M183.4 460.1L231.1 503.2M130.3 501.9L173.3 474.8M173.3 474.8L130.3 501.9M174.0 441.2L171.5 413.8M179.3 456.7L167.4 425.8M192.4 477.9L166.7 457.7M228.2 418.9L227.8 421.1M227.8 421.1L228.2 418.9M133.6 446.9L132.8 454.7M142.5 470.9L229.0 506.6M217.4 441.7L179.3 409.7M125.8 498.0L158.0 425.5M158.0 425.5L125.8 498.0M155.6 461.8L151.9 480.8M151.9 480.8L155.6 461.8M231.6 497.1L212.7 489.6M192.7 505.6L191.5 450.8M207.7 449.1L177.7 411.3M177.7 411.3L207.7 449.1M142.3 514.0L169.7 462.5M231.4 419.1L238.8 499.3M238.8 499.3L231.4 419.1M144.3 441.9L148.3 444.5M192.2 478.2L143.9 442.4M128.9 500.2L182.8 447.3M182.8 447.3L128.9 500.2M171.4 467.8L143.4 466.8M143.4 466.8L171.4 467.8M165.5 442.5L186.0 420.8M186.0 420.8L165.5 442.5M229.2 419.0L227.3 437.8M118.4 503.8L129.0 515.6M129.0 515.6L118.4 503.8M151.6 480.8L160.9 426.4M179.2 499.6L191.8 491.5M191.8 491.5L179.2 499.6M197.7 506.7L221.1 459.1M221.5 442.7L219.8 447.2M198.5 422.8L234.9 500.4M145.2 440.1L164.6 448.1M137.7 456.3L164.5 412.1M164.5 412.1L137.7 456.3M189.9 506.0L166.5 426.1M166.5 426.1L189.9 506.0M155.7 482.3L168.9 462.0M168.9 462.0L155.7 482.3M234.8 492.7L198.6 448.2M214.8 449.8L186.3 451.7M145.7 438.8L203.6 455.3M182.2 517.9L148.5 522.7M131.9 507.7L228.1 510.7M200.4 473.5L194.9 423.8M205.8 474.1L226.5 418.4M173.6 495.3L187.7 450.3M235.9 491.9L221.9 469.2M135.1 447.0L136.5 512.6M166.9 457.4L230.4 504.1M181.3 456.1L172.8 413.6M172.8 413.6L181.3 456.1M248.3 471.4L173.2 421.1M173.2 421.1L248.3 471.4M121.8 494.8L139.1 492.7M219.6 411.0L145.6 432.5M145.6 432.5L219.6 411.0M80.9 439.5L179.4 439.0M179.4 439.0L80.9 439.5M117.4 487.6L125.0 476.2M125.0 476.2L117.4 487.6M204.1 380.9L197.2 401.9M204.4 464.2L159.5 486.6M159.5 486.6L204.4 464.2M191.6 491.3L146.9 518.3M258.1 438.3L242.8 499.7M127.1 498.7L151.7 460.2M236.5 491.6L199.1 422.5M209.9 381.1L223.5 438.0M190.0 506.0L178.0 463.4M130.9 511.8L200.6 544.7M161.6 510.2L147.0 518.5M176.7 412.0L233.6 501.2M76.7 467.7L113.9 500.6M81.2 518.4L149.3 458.2M78.2 456.8L152.0 419.8M190.3 482.1L143.0 469.5M221.6 414.9L183.8 445.4M208.5 538.7L193.2 450.6M145.3 431.6L183.2 416.7M238.5 490.7L229.3 459.8M190.9 505.8L186.0 480.3M145.9 516.8L206.0 466.6M80.1 443.5L229.0 506.5" stroke="#7b7f81" stroke-width="1.1" fill="none"/>
<path d="M59.3 400.2L64.1 400.1L62.7 403.7ZM205.2 360.0L202.4 356.1L206.1 355.3ZM206.1 384.7L203.6 380.6L207.4 380.1ZM174.8 391.6L174.7 386.9L178.2 388.3ZM271.4 355.5L270.2 360.1L267.2 357.8ZM272.4 356.2L271.7 360.9L268.5 358.9ZM207.4 384.6L205.5 380.2L209.3 380.2ZM207.4 381.4L209.3 385.8L205.5 385.8ZM199.2 377.6L197.1 381.9L194.6 379.1ZM199.7 378.2L197.9 382.6L195.2 379.9ZM201.7 379.8L201.0 384.5L197.8 382.5ZM224.5 398.2L220.5 395.4L223.8 393.4ZM193.9 427.5L193.1 422.8L196.8 423.7ZM181.8 400.0L185.7 397.3L186.5 401.0ZM197.3 396.9L193.4 399.7L192.6 395.9ZM220.5 402.3L215.8 401.8L217.6 398.5ZM201.1 403.0L199.9 407.7L196.9 405.4ZM198.0 399.0L194.7 402.5L193.2 399.0ZM220.6 422.0L217.0 418.9L220.4 417.3ZM187.5 456.5L187.0 451.7L190.6 452.9ZM91.8 423.1L89.4 427.3L87.1 424.3ZM94.1 425.3L93.1 430.0L90.0 427.8ZM124.9 430.3L120.1 429.9L121.9 426.6ZM109.0 421.7L113.7 422.1L111.9 425.5ZM102.8 426.7L105.9 430.4L102.2 431.4ZM106.3 438.8L103.3 435.1L106.9 434.0ZM105.4 425.5L109.4 428.2L106.2 430.2ZM159.2 404.6L155.3 407.4L154.5 403.6ZM110.1 418.1L114.7 416.7L114.3 420.5ZM148.0 445.0L143.3 444.4L145.2 441.1ZM80.9 438.9L85.2 436.7L85.4 440.5ZM80.6 441.8L85.4 440.9L84.5 444.6ZM80.8 440.8L85.4 439.5L84.9 443.3ZM80.0 443.7L84.8 443.7L83.3 447.2ZM79.2 445.1L83.9 446.0L81.9 449.1ZM76.6 447.8L80.8 450.3L77.7 452.5ZM70.9 449.8L72.9 454.1L69.1 454.2ZM70.0 449.8L71.7 454.3L67.9 454.1ZM151.1 417.5L147.4 420.5L146.4 416.9ZM76.9 447.6L81.1 449.9L78.1 452.3ZM79.2 474.0L75.1 471.7L78.1 469.4ZM75.4 469.0L79.6 471.3L76.5 473.6ZM18.3 505.8L20.3 501.5L22.8 504.4ZM70.0 471.0L72.1 475.3L68.3 475.5ZM124.3 439.8L120.9 443.2L119.5 439.6ZM119.8 465.4L115.3 466.9L115.6 463.2ZM146.6 452.0L142.4 454.4L142.0 450.7ZM77.0 467.4L81.6 468.8L79.1 471.7ZM78.7 458.2L82.3 455.0L83.5 458.6ZM20.0 508.6L23.3 505.2L24.8 508.7ZM20.1 508.9L23.6 505.6L24.9 509.1ZM20.0 508.6L23.3 505.2L24.8 508.7ZM20.6 514.7L25.3 513.7L24.5 517.4ZM19.1 507.0L21.8 503.0L23.8 506.2ZM31.7 537.4L27.4 535.3L30.3 532.8ZM75.9 515.2L75.2 510.4L78.9 511.4ZM45.0 536.8L46.0 532.2L49.1 534.4ZM120.4 470.0L116.8 473.2L115.6 469.5ZM93.8 478.6L97.4 475.4L98.5 479.0ZM102.6 491.1L97.8 490.7L99.6 487.3ZM73.9 449.2L77.1 452.8L73.5 454.0ZM93.8 478.6L97.4 475.4L98.5 479.0ZM124.6 440.6L121.5 444.3L119.9 440.9ZM122.4 459.0L117.8 457.7L120.2 454.7ZM116.7 454.4L121.3 455.7L118.9 458.6ZM146.5 450.1L142.0 451.8L142.2 448.0ZM111.1 485.8L108.9 481.5L112.7 481.3ZM48.0 540.2L50.9 536.3L52.8 539.6ZM63.8 531.0L60.9 534.9L59.0 531.6ZM45.8 537.5L47.3 532.9L50.1 535.4ZM46.9 538.6L49.0 534.3L51.5 537.2ZM47.6 539.5L50.2 535.5L52.3 538.6ZM48.4 540.9L51.5 537.2L53.2 540.6ZM49.3 543.3L53.2 540.5L54.0 544.2ZM49.5 545.8L53.9 544.0L53.9 547.8ZM49.4 547.2L54.0 546.0L53.4 549.8ZM91.9 553.7L87.3 554.9L87.8 551.2ZM49.4 546.9L54.0 545.5L53.6 549.3ZM47.1 538.9L49.4 534.6L51.8 537.6ZM103.4 502.4L101.1 506.5L98.8 503.5ZM83.2 521.8L86.7 518.5L88.0 522.0ZM83.9 525.4L88.3 523.4L88.3 527.2ZM125.0 524.6L120.6 526.6L120.6 522.8ZM83.0 521.2L86.2 517.7L87.8 521.1ZM80.7 517.9L82.4 513.5L85.1 516.1ZM129.2 552.8L124.4 552.6L126.1 549.2ZM83.9 524.8L88.1 522.5L88.4 526.3ZM83.7 527.6L88.4 526.6L87.7 530.3ZM82.7 520.6L85.7 516.9L87.5 520.3ZM83.9 524.7L88.1 522.4L88.4 526.2ZM128.2 556.7L123.7 558.3L123.9 554.5ZM109.8 506.2L110.9 510.9L107.2 510.2ZM117.5 516.9L117.5 521.7L114.1 520.2ZM127.9 532.1L125.8 536.4L123.3 533.5ZM106.7 547.7L107.9 543.1L110.9 545.4ZM110.4 554.6L114.7 552.5L114.9 556.3ZM110.1 552.8L113.9 549.8L114.8 553.5ZM137.4 536.2L139.5 540.5L135.7 540.7ZM135.2 547.5L132.0 544.0L135.6 542.8ZM148.2 547.8L146.4 552.3L143.7 549.5ZM145.9 550.1L147.7 545.6L150.3 548.4ZM148.7 556.2L152.9 553.8L153.3 557.6ZM137.7 547.0L135.5 542.8L139.3 542.5ZM148.8 557.1L153.2 555.2L153.2 559.0ZM145.4 532.5L149.9 534.1L147.3 536.9ZM150.9 502.1L153.2 506.3L149.4 506.7ZM164.0 542.6L168.6 541.4L168.1 545.1ZM162.6 536.2L165.2 532.2L167.3 535.4ZM166.4 514.5L166.4 519.3L162.9 517.8ZM302.6 449.8L297.9 449.5L299.6 446.1ZM259.7 442.9L258.1 438.4L261.9 438.6ZM260.0 438.6L261.6 443.1L257.8 442.9ZM269.4 453.5L273.8 451.7L273.7 455.5ZM301.5 454.2L297.1 456.0L297.2 452.2ZM237.4 449.7L241.9 448.1L241.6 451.9ZM308.8 484.0L307.4 479.4L311.1 479.8ZM310.8 464.7L312.2 469.3L308.4 468.9ZM293.5 468.0L295.9 463.9L298.2 466.9ZM303.5 460.6L301.1 464.8L298.8 461.7ZM267.3 473.2L270.6 469.8L272.0 473.3ZM281.9 504.2L282.5 499.5L285.8 501.4ZM303.2 460.2L300.6 464.2L298.5 461.0ZM236.5 435.0L241.3 434.3L240.3 438.0ZM293.1 481.3L297.7 482.7L295.2 485.6ZM300.3 487.4L295.7 486.0L298.1 483.1ZM285.2 507.5L287.9 503.6L289.9 506.8ZM299.4 498.8L296.7 502.7L294.7 499.5ZM267.6 480.7L272.3 480.3L271.2 483.9ZM298.1 494.8L293.9 497.2L293.5 493.4ZM301.3 501.0L299.8 505.6L296.9 503.1ZM268.0 476.2L272.2 473.9L272.6 477.6ZM274.1 475.6L269.9 477.9L269.5 474.2ZM278.8 503.0L277.9 498.3L281.6 499.1ZM282.6 485.0L283.5 489.7L279.8 488.9ZM275.6 480.1L272.9 484.0L270.9 480.8ZM250.8 495.4L253.5 491.5L255.5 494.7ZM280.8 484.4L281.0 489.2L277.5 487.8ZM258.3 463.5L259.9 468.0L256.1 467.7ZM258.1 466.6L256.5 462.1L260.3 462.4ZM272.1 504.0L268.3 501.1L271.6 499.3ZM247.6 492.1L248.4 487.4L251.6 489.5ZM251.3 486.4L250.5 491.1L247.3 489.0ZM246.6 478.9L242.5 481.4L242.0 477.6ZM247.4 473.0L242.6 472.9L244.2 469.5ZM252.3 487.0L252.0 491.8L248.6 490.0ZM251.9 504.5L256.6 504.0L255.5 507.6ZM267.5 509.6L262.7 510.0L263.9 506.4ZM258.1 546.2L258.5 541.4L261.9 543.3ZM272.0 521.2L271.5 525.9L268.2 524.1ZM249.8 545.2L246.7 541.5L250.4 540.5ZM250.6 545.0L247.9 541.1L251.6 540.3ZM221.1 550.9L225.7 549.7L225.2 553.4ZM242.1 554.0L237.5 555.2L238.0 551.5ZM246.5 546.9L242.3 544.4L245.4 542.2ZM246.1 547.1L241.9 544.9L244.9 542.5ZM243.8 549.7L239.0 548.9L241.1 545.7ZM232.7 520.4L231.5 525.1L228.5 522.8ZM217.0 540.8L218.2 536.1L221.2 538.4ZM198.0 525.9L201.7 528.9L198.4 530.7ZM205.3 539.8L201.6 536.8L204.9 535.0ZM208.9 538.6L206.5 534.5L210.2 534.0ZM216.3 540.2L217.1 535.5L220.3 537.6ZM200.2 545.8L195.4 546.2L196.6 542.6ZM203.2 541.3L198.8 539.3L201.6 536.7ZM202.6 541.8L198.1 540.2L200.7 537.4ZM207.0 539.0L203.8 535.5L207.5 534.3ZM227.6 457.2L231.7 454.7L232.2 458.5ZM248.9 451.9L244.3 453.2L244.8 449.5ZM250.4 447.7L245.6 447.0L247.7 443.8ZM236.8 430.9L241.0 428.5L241.4 432.3ZM250.2 429.3L246.0 431.7L245.6 427.9ZM239.8 414.1L244.5 415.0L242.4 418.1ZM251.9 422.2L247.2 421.4L249.3 418.2ZM251.6 433.5L248.8 437.4L246.9 434.2ZM250.2 429.7L246.2 432.3L245.6 428.5ZM188.3 450.4L189.0 455.2L185.3 454.2ZM172.3 422.4L176.8 423.9L174.3 426.7ZM200.4 446.4L205.0 447.8L202.6 450.7ZM176.1 412.3L180.0 415.2L176.7 417.1ZM185.4 428.7L181.6 425.8L184.9 424.0ZM175.3 413.6L179.6 411.5L179.8 415.3ZM182.4 413.2L178.1 415.4L177.9 411.6ZM156.5 482.9L157.7 478.3L160.7 480.7ZM192.6 423.8L194.1 428.4L190.3 428.1ZM203.6 462.2L199.9 465.3L198.9 461.7ZM180.1 442.9L176.5 446.1L175.3 442.6ZM234.9 500.4L231.3 497.2L234.8 495.6ZM161.3 426.5L162.5 431.1L158.8 430.6ZM159.4 439.5L158.1 434.9L161.9 435.4ZM192.6 476.6L197.1 478.3L194.5 481.0ZM193.1 477.1L188.6 475.5L191.2 472.7ZM193.8 450.5L196.6 454.4L192.9 455.2ZM164.2 455.9L160.6 459.1L159.5 455.5ZM142.8 462.8L146.4 459.6L147.6 463.3ZM230.1 504.5L225.4 503.6L227.6 500.4ZM153.2 421.7L150.8 425.9L148.5 422.9ZM200.4 431.7L202.7 427.4L205.1 430.4ZM198.5 422.8L202.1 426.0L198.7 427.6ZM230.5 503.9L225.9 502.8L228.2 499.8ZM193.5 475.7L198.1 476.8L195.8 479.8ZM175.2 413.1L179.4 410.8L179.8 414.6ZM219.2 408.9L215.0 411.2L214.6 407.4ZM202.5 442.3L207.3 441.6L206.2 445.3ZM141.7 460.3L144.5 456.4L146.5 459.7ZM209.8 469.6L209.4 474.4L206.0 472.7ZM207.1 474.7L207.5 469.9L210.8 471.7ZM128.9 515.6L124.6 513.6L127.4 511.1ZM128.5 515.1L132.8 517.1L130.0 519.6ZM179.4 438.3L174.9 440.0L175.1 436.2ZM143.4 482.7L139.3 480.2L142.4 478.0ZM138.5 475.9L142.7 478.4L139.6 480.6ZM156.7 424.8L156.0 429.6L152.8 427.6ZM233.3 501.3L229.3 498.7L232.4 496.6ZM186.2 454.2L190.8 453.0L190.2 456.8ZM203.2 456.8L198.6 458.0L199.2 454.3ZM145.8 501.4L146.0 506.2L142.5 504.8ZM141.1 513.4L141.0 508.6L144.5 510.0ZM183.4 408.0L178.6 408.0L180.1 404.5ZM166.7 426.0L169.8 429.7L166.2 430.8ZM204.9 411.1L209.0 408.7L209.5 412.4ZM219.2 409.3L215.1 411.7L214.6 408.0ZM180.5 443.9L177.3 447.5L175.7 444.0ZM142.3 461.5L145.5 457.9L147.1 461.4ZM173.5 461.3L168.8 460.4L170.9 457.3ZM237.3 499.6L234.5 495.7L238.2 494.9ZM182.0 403.4L186.5 401.9L186.2 405.6ZM219.1 406.8L214.6 408.3L214.9 404.5ZM172.4 422.3L177.0 423.6L174.5 426.5ZM206.0 450.7L201.4 449.4L203.9 446.5ZM195.8 506.0L195.2 501.3L198.9 502.3ZM158.7 485.3L161.3 481.2L163.4 484.4ZM132.7 478.2L134.9 482.4L131.2 482.7ZM228.4 508.6L223.7 509.5L224.5 505.8ZM182.1 461.3L186.4 463.5L183.5 465.9ZM202.8 436.7L206.7 434.0L207.5 437.7ZM214.5 434.4L210.6 437.1L209.8 433.4ZM167.6 413.4L168.3 418.2L164.6 417.2ZM173.5 461.4L168.7 460.5L170.8 457.4ZM175.8 477.6L174.5 482.2L171.5 479.8ZM228.2 512.6L224.1 515.1L223.6 511.3ZM128.8 477.9L129.6 482.6L125.9 481.7ZM168.9 425.1L172.7 428.0L169.3 429.9ZM201.2 421.0L205.6 423.1L202.7 425.6ZM203.2 457.0L198.6 458.3L199.1 454.5ZM169.0 452.3L173.6 451.0L173.1 454.7ZM228.2 512.4L224.0 514.8L223.6 511.0ZM140.4 496.7L137.5 500.6L135.6 497.2ZM162.1 410.2L160.2 414.6L157.6 411.8ZM173.8 420.2L178.5 420.7L176.7 424.0ZM219.8 458.4L218.9 463.1L215.7 461.0ZM218.9 446.9L218.3 442.1L221.9 443.2ZM184.9 449.0L184.1 453.7L180.9 451.6ZM143.1 514.4L143.9 509.7L147.1 511.8ZM191.7 423.7L192.8 428.4L189.1 427.7ZM185.9 456.1L184.8 451.4L188.5 452.1ZM231.1 503.2L226.6 501.7L229.1 498.8ZM173.3 474.8L170.6 478.7L168.6 475.5ZM130.3 501.9L133.0 497.9L135.0 501.2ZM171.5 413.8L173.8 418.0L170.0 418.3ZM167.4 425.8L170.8 429.2L167.2 430.6ZM166.7 457.7L171.3 458.9L169.0 461.9ZM227.8 421.1L226.8 416.4L230.5 417.2ZM228.2 418.9L229.2 423.6L225.5 422.8ZM132.8 454.7L131.4 450.1L135.2 450.5ZM229.0 506.6L224.2 506.7L225.7 503.2ZM179.3 409.7L183.9 411.1L181.5 414.0ZM158.0 425.5L158.0 430.3L154.5 428.8ZM125.8 498.0L125.8 493.2L129.3 494.7ZM151.9 480.8L150.9 476.1L154.6 476.9ZM155.6 461.8L156.6 466.5L152.9 465.7ZM212.7 489.6L217.5 489.4L216.0 493.0ZM191.5 450.8L193.5 455.2L189.7 455.2ZM177.7 411.3L181.9 413.6L178.9 415.9ZM207.7 449.1L203.5 446.8L206.5 444.5ZM169.7 462.5L169.3 467.3L166.0 465.5ZM238.8 499.3L236.5 495.1L240.3 494.8ZM231.4 419.1L233.7 423.3L229.9 423.6ZM148.3 444.5L143.6 443.7L145.7 440.5ZM143.9 442.4L148.6 443.5L146.3 446.6ZM182.8 447.3L181.0 451.7L178.3 449.0ZM128.9 500.2L130.8 495.7L133.4 498.5ZM143.4 466.8L147.9 465.1L147.7 468.9ZM171.4 467.8L166.9 469.5L167.1 465.7ZM186.0 420.8L184.3 425.3L181.6 422.7ZM165.5 442.5L167.2 438.0L169.9 440.6ZM227.3 437.8L225.8 433.2L229.6 433.6ZM129.0 515.6L124.6 513.6L127.4 511.0ZM118.4 503.8L122.8 505.8L120.0 508.3ZM160.9 426.4L162.1 431.1L158.3 430.4ZM191.8 491.5L189.1 495.5L187.0 492.3ZM179.2 499.6L181.9 495.6L183.9 498.8ZM221.1 459.1L220.9 463.9L217.5 462.2ZM219.8 447.2L219.6 442.4L223.2 443.8ZM234.9 500.4L231.3 497.2L234.7 495.6ZM164.6 448.1L159.8 448.2L161.2 444.7ZM164.5 412.1L163.9 416.9L160.6 414.9ZM137.7 456.3L138.4 451.6L141.6 453.5ZM166.5 426.1L169.5 429.8L165.9 430.9ZM189.9 506.0L186.8 502.3L190.5 501.3ZM168.9 462.0L168.1 466.7L164.9 464.6ZM155.7 482.3L156.5 477.6L159.7 479.7ZM198.6 448.2L202.9 450.4L199.9 452.8ZM186.3 451.7L190.5 449.5L190.8 453.3ZM203.6 455.3L198.8 455.9L199.9 452.3ZM148.5 522.7L152.6 520.2L153.1 524.0ZM228.1 510.7L223.6 512.5L223.8 508.7ZM194.9 423.8L197.3 428.0L193.5 428.4ZM226.5 418.4L226.7 423.2L223.2 421.9ZM187.7 450.3L188.2 455.0L184.5 453.9ZM221.9 469.2L225.8 471.9L222.6 473.9ZM136.5 512.6L134.5 508.2L138.3 508.2ZM230.4 504.1L225.7 503.0L228.0 500.0ZM172.8 413.6L175.5 417.5L171.8 418.3ZM181.3 456.1L178.6 452.2L182.3 451.5ZM173.2 421.1L177.9 422.0L175.8 425.2ZM248.3 471.4L243.6 470.5L245.7 467.4ZM139.1 492.7L134.9 495.1L134.5 491.4ZM145.6 432.5L149.3 429.5L150.4 433.1ZM219.6 411.0L215.9 414.0L214.8 410.4ZM179.4 439.0L175.0 441.0L175.0 437.2ZM80.9 439.5L85.3 437.5L85.3 441.3ZM125.0 476.2L124.1 480.9L121.0 478.8ZM117.4 487.6L118.2 482.8L121.4 485.0ZM197.2 401.9L196.8 397.1L200.4 398.3ZM159.5 486.6L162.6 482.9L164.3 486.3ZM204.4 464.2L201.3 467.9L199.6 464.4ZM146.9 518.3L149.7 514.4L151.6 517.7ZM242.8 499.7L242.0 494.9L245.7 495.8ZM151.7 460.2L151.0 465.0L147.7 462.9ZM199.1 422.5L202.8 425.5L199.5 427.3ZM223.5 438.0L220.6 434.2L224.3 433.3ZM178.0 463.4L181.1 467.1L177.4 468.1ZM200.6 544.7L195.8 544.5L197.5 541.1ZM147.0 518.5L149.9 514.7L151.8 518.0ZM233.6 501.2L229.6 498.5L232.8 496.4ZM113.9 500.6L109.3 499.1L111.9 496.2ZM149.3 458.2L147.3 462.5L144.8 459.7ZM152.0 419.8L148.9 423.5L147.2 420.1ZM143.0 469.5L147.7 468.8L146.8 472.4ZM183.8 445.4L186.0 441.2L188.4 444.1ZM193.2 450.6L195.9 454.6L192.1 455.3ZM183.2 416.7L179.8 420.1L178.4 416.6ZM229.3 459.8L232.4 463.5L228.8 464.6ZM186.0 480.3L188.7 484.2L185.0 485.0ZM206.0 466.6L203.8 470.9L201.4 468.0ZM229.0 506.5L224.2 506.5L225.7 503.0Z" fill="#7b7f81" stroke="none"/>
<circle cx="51.2" cy="396.9" r="8.5" fill="rgb(110,184,102)"/>
<circle cx="99.9" cy="416.8" r="10.0" fill="rgb(150,201,101)"/>
<circle cx="277.8" cy="347.4" r="10.0" fill="rgb(130,192,102)"/>
<circle cx="207.4" cy="370.6" r="10.5" fill="rgb(150,201,101)"/>
<circle cx="207.4" cy="394.9" r="10.0" fill="rgb(125,190,102)"/>
<circle cx="230.4" cy="407.8" r="11.0" fill="rgb(180,213,101)"/>
<circle cx="260.6" cy="428.1" r="10.2" fill="rgb(140,196,102)"/>
<circle cx="170.5" cy="402.3" r="11.2" fill="rgb(200,221,101)"/>
<circle cx="163.0" cy="414.3" r="12.0" fill="rgb(225,231,100)"/>
<circle cx="193.7" cy="412.6" r="11.0" fill="rgb(190,217,101)"/>
<circle cx="225.6" cy="432.2" r="11.0" fill="rgb(190,217,101)"/>
<circle cx="10.5" cy="512.6" r="10.0" fill="rgb(150,201,101)"/>
<circle cx="38.7" cy="545.6" r="10.5" fill="rgb(185,215,101)"/>
<circle cx="73.1" cy="525.6" r="10.5" fill="rgb(165,207,101)"/>
<circle cx="101.1" cy="555.1" r="9.0" fill="rgb(115,186,102)"/>
<circle cx="138.5" cy="557.3" r="10.0" fill="rgb(160,205,101)"/>
<circle cx="70.6" cy="439.5" r="10.0" fill="rgb(170,209,101)"/>
<circle cx="69.4" cy="461.2" r="9.5" fill="rgb(135,194,102)"/>
<circle cx="84.9" cy="481.4" r="9.0" fill="rgb(110,184,102)"/>
<circle cx="109.1" cy="448.2" r="9.5" fill="rgb(130,192,102)"/>
<circle cx="134.8" cy="435.7" r="11.0" fill="rgb(190,217,101)"/>
<circle cx="131.6" cy="466.4" r="11.5" fill="rgb(205,223,100)"/>
<circle cx="111.6" cy="496.1" r="10.0" fill="rgb(150,201,101)"/>
<circle cx="121.6" cy="507.4" r="10.0" fill="rgb(135,194,102)"/>
<circle cx="149.8" cy="491.4" r="10.5" fill="rgb(170,209,101)"/>
<circle cx="136.8" cy="524.4" r="11.5" fill="rgb(215,227,100)"/>
<circle cx="154.8" cy="541.3" r="9.0" fill="rgb(105,181,102)"/>
<circle cx="157.8" cy="450.7" r="11.0" fill="rgb(195,219,101)"/>
<circle cx="311.8" cy="454.5" r="10.0" fill="rgb(140,196,102)"/>
<circle cx="307.8" cy="493.7" r="9.5" fill="rgb(135,194,102)"/>
<circle cx="252.8" cy="555.6" r="10.5" fill="rgb(150,201,101)"/>
<circle cx="210.4" cy="549.3" r="10.5" fill="rgb(170,209,101)"/>
<circle cx="276.8" cy="512.6" r="9.5" fill="rgb(125,190,102)"/>
<circle cx="284.8" cy="474.4" r="10.5" fill="rgb(155,203,101)"/>
<circle cx="257.3" cy="477.4" r="10.5" fill="rgb(150,201,101)"/>
<circle cx="259.1" cy="453.2" r="10.0" fill="rgb(130,192,102)"/>
<circle cx="241.6" cy="501.1" r="10.5" fill="rgb(160,205,101)"/>
<circle cx="239.9" cy="511.1" r="11.5" fill="rgb(215,227,100)"/>
<circle cx="192.9" cy="516.4" r="10.5" fill="rgb(165,207,101)"/>
<circle cx="170.5" cy="505.1" r="10.0" fill="rgb(160,205,101)"/>
<circle cx="201.7" cy="485.2" r="11.5" fill="rgb(215,227,100)"/>
<circle cx="183.7" cy="468.2" r="12.0" fill="rgb(220,229,100)"/>
<circle cx="215.4" cy="458.7" r="12.0" fill="rgb(222,230,100)"/>
<circle cx="226.1" cy="449.0" r="11.0" fill="rgb(210,225,100)"/>
<circle cx="175.0" cy="452.5" r="11.0" fill="rgb(200,221,101)"/>
<circle cx="191.2" cy="439.0" r="11.5" fill="rgb(215,227,100)"/>
<g font-size="8.9" text-anchor="middle" fill="#111">
<text x="51.2" y="399.9">234</text>
<text x="99.9" y="419.8">108</text>
<text x="199.2" y="334.7">162</text>
<text x="277.8" y="350.4">1116</text>
<text x="207.4" y="373.6">612</text>
<text x="207.4" y="397.9">594</text>
<text x="230.4" y="410.8">144</text>
<text x="260.6" y="431.1">90</text>
<text x="170.5" y="405.3">324</text>
<text x="163.0" y="417.3">270</text>
<text x="193.7" y="415.6">396</text>
<text x="225.6" y="435.2">828</text>
<text x="10.5" y="515.6">180</text>
<text x="38.7" y="548.6">360</text>
<text x="73.1" y="528.6">630</text>
<text x="101.1" y="558.1">522</text>
<text x="138.5" y="560.3">702</text>
<text x="70.6" y="442.5">216</text>
<text x="69.4" y="464.2">252</text>
<text x="84.9" y="484.4">450</text>
<text x="109.1" y="451.2">126</text>
<text x="134.8" y="438.7">288</text>
<text x="131.6" y="469.4">558</text>
<text x="111.6" y="499.1">576</text>
<text x="121.6" y="510.4">738</text>
<text x="149.8" y="494.4">414</text>
<text x="136.8" y="527.4">810</text>
<text x="154.8" y="544.3">792</text>
<text x="157.8" y="453.7">756</text>
<text x="311.8" y="457.5">864</text>
<text x="307.8" y="496.7">648</text>
<text x="252.8" y="558.6">1134</text>
<text x="210.4" y="552.3">432</text>
<text x="276.8" y="515.6">666</text>
<text x="284.8" y="477.4">378</text>
<text x="257.3" y="480.4">684</text>
<text x="259.1" y="456.2">1026</text>
<text x="241.6" y="504.1">774</text>
<text x="239.9" y="514.1">846</text>
<text x="192.9" y="519.4">720</text>
<text x="170.5" y="508.1">306</text>
<text x="201.7" y="488.2">468</text>
<text x="183.7" y="471.2">504</text>
<text x="215.4" y="461.7">540</text>
<text x="226.1" y="452.0">486</text>
<text x="175.0" y="455.5">342</text>
<text x="191.2" y="442.0">198</text>
</g>
<text x="161.0" y="303.8" font-size="9.6" text-anchor="middle" fill="#1a1a1a">Closeness Centrality</text>
</g>
<g>
<path d="M458.5 415.7L413.1 397.2M560.5 332.0L567.5 365.4M560.4 332.0L568.1 390.9M560.3 332.0L536.0 391.8M596.4 401.7L637.6 349.2M591.9 423.9L637.8 349.4M568.6 375.9L568.6 390.9M568.6 390.9L568.6 375.9M540.3 394.9L564.6 374.1M533.3 405.3L564.8 374.3M523.9 442.8L565.8 375.1M571.4 375.1L587.5 401.2M567.4 375.8L554.9 428.5M564.7 395.7L542.8 400.1M542.8 400.1L564.7 395.7M572.1 396.9L584.8 404.0M561.8 403.7L566.2 398.1M535.9 409.2L564.9 396.5M570.4 398.5L582.5 423.4M567.4 398.7L547.9 458.9M439.9 433.2L458.9 418.5M431.9 459.3L459.5 419.1M463.6 418.1L489.1 432.0M489.1 432.0L463.6 418.1M469.8 446.5L461.9 419.5M461.9 419.5L469.8 446.5M487.1 457.5L462.6 419.2M463.8 416.2L520.6 404.6M577.1 431.0L463.9 417.1M463.5 418.2L511.0 446.0M488.2 436.2L442.1 438.9M468.5 447.8L441.8 441.8M509.8 449.5L442.0 440.8M483.1 462.1L441.2 443.7M502.0 485.5L440.4 445.1M471.5 494.2L437.8 447.8M434.1 518.8L432.1 449.8M430.7 458.9L431.2 449.8M441.7 436.8L511.9 417.7M492.3 517.1L438.1 447.6M432.0 463.0L444.7 479.6M444.7 479.6L432.0 463.0M428.9 462.7L378.0 507.1M433.9 518.8L430.7 463.5M432.7 460.4L488.7 438.5M432.9 461.4L482.2 465.5M432.9 460.9L509.8 451.8M471.0 494.6L432.4 462.7M468.6 448.8L432.8 460.5M444.0 482.3L379.4 509.4M482.9 470.2L379.5 509.6M510.4 454.3L379.4 509.4M427.6 524.2L379.8 514.3M468.8 449.2L378.6 508.1M377.1 518.9L394.5 539.3M445.5 483.6L436.1 519.0M444.8 483.3L404.7 538.9M448.3 480.7L482.7 469.6M482.7 469.6L448.3 480.7M448.1 482.5L470.8 495.0M445.4 479.2L435.1 449.2M525.9 455.8L448.3 480.7M471.9 447.4L489.0 439.1M471.7 449.3L484.6 459.7M484.6 459.7L471.7 449.3M472.1 448.3L509.7 450.2M470.4 450.0L472.7 493.8M428.4 529.0L407.1 541.4M407.1 541.4L428.4 529.0M490.9 441.6L405.4 539.4M484.7 473.3L406.2 540.2M470.9 497.4L406.8 540.9M501.3 496.1L407.4 542.0M488.9 526.4L408.0 543.8M565.1 549.2L408.2 545.8M460.0 554.8L408.1 546.8M408.1 546.8L460.0 554.8M497.4 557.0L408.1 546.6M511.7 456.5L406.4 540.4M439.7 521.5L471.0 497.5M479.1 508.8L440.7 523.2M488.7 524.6L441.1 525.5M441.1 525.5L488.7 524.6M501.1 495.8L440.5 522.8M485.3 473.9L439.1 520.8M440.4 528.6L497.6 556.3M548.3 516.8L441.1 525.1M514.9 541.1L441.0 526.9M536.2 472.7L440.3 522.5M588.3 512.2L441.1 525.0M464.6 555.2L497.4 557.2M462.7 552.8L472.4 498.4M463.2 553.0L481.2 511.1M464.0 553.6L490.9 530.5M504.4 500.0L463.7 553.3M565.1 549.6L464.6 555.0M514.9 541.6L464.5 554.5M499.6 555.0L498.5 533.7M484.1 511.2L499.0 555.1M501.3 555.7L515.2 542.1M515.2 542.1L501.3 555.7M565.1 550.0L502.0 557.0M493.6 477.0L499.5 555.0M609.2 555.7L502.0 557.3M515.2 540.5L504.8 530.8M515.9 540.2L512.1 502.1M565.2 548.4L517.1 541.5M549.2 519.6L516.9 540.7M516.4 540.3L530.8 507.2M625.4 429.9L670.5 453.2M621.6 432.1L620.4 450.9M620.4 450.9L621.6 432.1M670.2 454.4L622.6 453.3M622.6 453.3L670.2 454.4M670.2 454.3L597.6 449.7M672.7 457.3L669.2 491.9M669.2 491.9L672.7 457.3M670.7 456.2L647.9 473.0M647.9 473.0L670.7 456.2M670.4 455.6L621.1 476.3M671.6 456.9L638.6 511.7M605.1 499.6L670.7 456.0M670.3 453.8L596.3 434.7M667.6 492.5L647.8 475.9M647.8 475.9L667.6 492.5M667.5 494.6L638.9 512.0M638.9 512.0L667.5 494.6M667.3 493.1L621.2 478.3M605.6 500.8L667.2 493.9M617.2 552.0L667.8 495.0M643.7 474.6L621.3 477.1M621.3 477.1L643.7 474.6M645.5 476.7L638.2 511.5M638.2 511.5L645.5 476.7M605.2 499.6L644.0 475.6M644.0 475.6L605.2 499.6M615.8 551.1L645.2 476.5M618.7 474.6L620.1 455.5M620.1 455.5L618.7 474.6M619.9 479.8L637.5 511.6M617.0 479.7L604.3 498.8M604.3 498.8L617.0 479.7M568.1 484.5L615.7 477.8M586.0 462.9L615.9 476.3M607.0 499.7L617.2 479.9M637.0 512.3L605.5 502.0M605.5 502.0L637.0 512.3M637.5 513.6L616.3 551.4M616.3 551.4L637.5 513.6M604.7 523.4L612.7 551.0M603.4 503.8L613.0 550.9M609.3 554.9L578.0 550.3M578.0 550.3L609.3 554.9M566.0 489.5L611.2 551.7M551.0 475.9L611.0 551.8M559.0 519.6L610.0 553.0M575.6 544.2L593.3 521.2M593.3 521.2L575.6 544.2M568.5 543.6L556.8 521.5M556.8 521.5L568.5 543.6M563.6 490.5L570.7 542.9M601.3 503.5L575.1 543.8M506.8 527.4L565.4 547.2M533.2 506.8L567.2 544.5M518.8 498.9L566.9 544.8M548.0 477.5L569.6 543.1M618.0 453.5L586.8 457.4M597.5 450.3L618.0 452.9M595.1 437.4L618.4 452.0M617.8 428.6L596.5 431.1M596.5 431.1L617.8 428.6M618.5 425.9L598.1 412.2M598.1 412.2L618.5 425.9M596.1 443.7L618.4 430.2M563.1 437.3L617.8 428.7M547.3 458.7L549.7 449.5M544.3 431.9L533.8 422.7M568.6 452.2L560.8 445.8M547.1 429.6L537.3 412.1M537.3 412.1L547.1 429.6M543.6 413.2L537.0 413.6M537.0 413.6L543.6 413.2M545.7 447.5L517.7 482.9M553.4 428.2L553.8 423.8M554.3 465.4L566.7 461.7M527.8 447.6L542.2 442.6M581.0 468.0L595.7 499.5M520.3 441.5L522.4 427.0M522.4 427.0L520.3 441.5M559.0 481.6L552.0 474.9M552.0 474.9L559.0 481.6M561.7 480.0L554.8 449.5M502.9 463.2L525.9 455.8M525.9 455.8L502.9 463.2M567.3 488.2L590.5 503.9M502.2 431.0L514.0 422.0M585.5 412.7L560.9 432.3M572.2 449.4L559.7 422.8M552.7 474.1L590.9 503.3M590.9 503.3L552.7 474.1M583.8 408.5L536.9 413.1M536.9 413.1L583.8 408.5M577.4 446.2L562.8 442.0M511.0 455.5L501.9 461.0M565.3 480.5L571.9 467.8M571.9 467.8L565.3 480.5M485.5 510.4L491.8 517.5M491.8 517.5L485.5 510.4M503.8 436.2L541.6 438.4M499.0 475.0L504.6 482.7M504.6 482.7L499.0 475.0M498.3 457.3L517.6 425.3M558.4 447.9L593.9 500.5M566.4 457.1L546.9 454.1M546.9 454.1L566.4 457.1M501.4 515.7L507.0 501.4M507.0 501.4L501.4 515.7M542.0 406.9L544.6 408.0M533.0 442.2L528.0 426.5M583.9 408.8L566.1 411.1M566.1 411.1L583.9 408.8M502.4 462.0L542.6 443.5M542.6 443.5L502.4 462.0M526.7 455.9L536.8 462.7M589.5 459.1L598.3 498.6M474.3 497.8L480.1 504.4M480.1 504.4L474.3 497.8M583.8 407.1L543.0 403.3M543.0 403.3L583.8 407.1M568.7 452.0L534.0 422.6M534.0 422.6L568.7 452.0M561.5 490.3L555.7 510.8M536.8 473.7L519.9 485.3M497.2 515.1L493.7 477.0M521.6 493.7L588.6 508.4M559.5 481.1L543.0 460.9M577.2 434.1L563.0 436.9M563.0 436.9L577.2 434.1M521.4 441.7L528.8 413.2M502.5 440.0L536.7 462.8M504.0 517.3L538.6 475.7M507.2 523.2L588.4 512.7M483.7 503.5L490.3 476.7M560.4 480.5L530.3 425.5M580.5 441.3L562.4 421.0M528.2 452.0L566.4 457.3M566.4 457.3L528.2 452.0M559.9 515.8L588.4 512.5M486.3 505.4L501.6 496.7M501.7 430.4L523.4 410.0M578.3 444.0L535.4 420.5M565.9 480.8L581.5 457.5M589.4 415.3L579.5 448.8M503.0 516.6L546.6 448.1M546.6 448.1L503.0 516.6M546.6 458.6L552.9 423.7M552.9 423.7L546.6 458.6M544.2 459.7L591.6 502.5M486.2 505.3L536.6 473.4M536.6 473.4L486.2 505.3M535.2 441.7L532.7 413.6M541.4 459.1L528.8 426.2M558.7 481.9L526.3 456.4M590.1 415.5L588.7 422.6M588.7 422.6L590.1 415.5M495.2 443.5L493.9 455.9M502.6 470.4L589.3 506.2M579.4 442.4L540.4 409.6M484.4 503.7L519.0 426.0M519.0 426.0L484.4 503.7M517.2 459.8L513.1 480.8M513.1 480.8L517.2 459.8M600.2 500.1L567.8 487.2M554.0 510.6L552.6 449.8M570.2 450.6L538.7 411.1M538.7 411.1L570.2 450.6M502.4 516.2L531.1 462.0M592.3 415.6L599.9 498.4M599.9 498.4L592.3 415.6M502.5 440.0L511.2 445.6M558.6 482.0L502.3 440.3M485.7 504.6L544.7 446.6M544.7 446.6L485.7 504.6M535.1 467.9L503.4 466.8M503.4 466.8L535.1 467.9M525.4 443.9L547.2 420.8M547.2 420.8L525.4 443.9M590.8 415.6L588.4 438.8M474.3 497.8L491.8 517.5M491.8 517.5L474.3 497.8M512.8 480.8L522.0 426.9M533.6 503.9L558.4 488.1M558.4 488.1L533.6 503.9M556.7 511.2L582.7 458.2M583.3 441.3L580.3 449.1M559.7 422.8L595.7 499.5M503.2 438.7L526.2 448.3M498.3 457.3L525.8 412.0M525.8 412.0L498.3 457.3M552.5 510.8L527.8 426.6M527.8 426.6L552.5 510.8M516.9 482.3L530.3 461.6M530.3 461.6L516.9 482.3M601.0 498.9L559.2 447.4M577.0 449.7L547.0 451.8M503.5 437.8L566.7 455.9M548.4 517.2L507.2 523.1M486.8 507.5L588.3 510.7M562.3 479.9L556.1 423.8M564.7 480.2L588.9 415.1M532.4 502.9L549.2 449.3M601.3 498.7L582.0 467.5M496.2 443.5L497.8 515.1M526.5 456.2L590.8 503.5M543.0 458.6L533.9 413.4M533.9 413.4L543.0 458.6M616.2 475.8L534.8 421.4M534.8 421.4L616.2 475.8M475.1 495.8L500.3 492.7M584.1 410.0L503.5 433.5M503.5 433.5L584.1 410.0M442.1 439.5L541.6 439.0M541.6 439.0L442.1 439.5M474.1 494.2L486.9 475.2M486.9 475.2L474.1 494.2M567.0 375.6L558.4 401.9M567.4 463.3L520.7 486.6M520.7 486.6L567.4 463.3M558.4 487.9L506.0 519.6M620.8 432.0L604.2 498.7M485.0 504.0L514.0 458.5M601.5 498.6L560.3 422.5M569.8 375.8L584.9 439.0M552.5 510.8L539.1 462.9M486.4 509.1L565.7 546.5M529.7 506.2L506.1 519.8M537.8 411.8L594.2 500.3M432.3 462.7L479.8 504.7M439.4 521.1L512.0 456.9M432.7 460.2L512.8 420.0M557.8 483.8L503.0 469.1M585.5 412.7L544.6 445.7M570.5 542.9L554.3 449.6M503.3 432.9L544.4 416.7M602.0 498.4L590.2 458.9M553.0 510.7L546.7 477.8M505.1 518.4L568.7 465.3M441.3 443.5L589.3 506.1" stroke="#7b7f81" stroke-width="1.1" fill="none"/>
<path d="M413.1 397.2L417.9 397.1L416.5 400.6ZM567.5 365.4L564.7 361.5L568.5 360.7ZM568.1 390.9L565.6 386.8L569.4 386.3ZM536.0 391.8L535.9 387.0L539.4 388.5ZM637.6 349.2L636.4 353.8L633.4 351.5ZM637.8 349.4L637.1 354.1L633.9 352.1ZM568.6 390.9L566.7 386.5L570.5 386.5ZM568.6 375.9L570.5 380.3L566.7 380.3ZM564.6 374.1L562.5 378.4L560.0 375.5ZM564.8 374.3L563.0 378.8L560.4 376.1ZM565.8 375.1L565.1 379.8L561.9 377.8ZM587.5 401.2L583.6 398.4L586.8 396.4ZM554.9 428.5L554.1 423.8L557.8 424.6ZM542.8 400.1L546.7 397.4L547.5 401.1ZM564.7 395.7L560.7 398.4L560.0 394.7ZM584.8 404.0L580.0 403.5L581.9 400.2ZM566.2 398.1L565.0 402.7L562.0 400.4ZM564.9 396.5L561.7 400.0L560.1 396.5ZM582.5 423.4L578.9 420.3L582.3 418.6ZM547.9 458.9L547.5 454.1L551.1 455.3ZM458.9 418.5L456.6 422.7L454.2 419.7ZM459.5 419.1L458.6 423.8L455.5 421.7ZM489.1 432.0L484.4 431.6L486.2 428.2ZM463.6 418.1L468.3 418.6L466.5 421.9ZM461.9 419.5L464.9 423.2L461.3 424.2ZM469.8 446.5L466.7 442.8L470.4 441.7ZM462.6 419.2L466.6 421.8L463.4 423.9ZM520.6 404.6L516.7 407.3L515.9 403.6ZM463.9 417.1L468.5 415.8L468.0 419.6ZM511.0 446.0L506.2 445.4L508.1 442.1ZM442.1 438.9L446.4 436.7L446.6 440.5ZM441.8 441.8L446.6 440.9L445.7 444.6ZM442.0 440.8L446.6 439.5L446.1 443.3ZM441.2 443.7L446.0 443.7L444.5 447.2ZM440.4 445.1L445.1 446.0L443.1 449.1ZM437.8 447.8L442.0 450.3L438.9 452.5ZM432.1 449.8L434.1 454.1L430.3 454.2ZM431.2 449.8L432.9 454.3L429.1 454.1ZM511.9 417.7L508.1 420.7L507.1 417.0ZM438.1 447.6L442.3 449.9L439.3 452.3ZM444.7 479.6L440.5 477.2L443.5 474.9ZM432.0 463.0L436.2 465.4L433.2 467.7ZM378.0 507.1L380.0 502.8L382.5 505.7ZM430.7 463.5L432.9 467.8L429.1 468.0ZM488.7 438.5L485.3 441.9L483.9 438.4ZM482.2 465.5L477.7 467.0L478.0 463.3ZM509.8 451.8L505.6 454.2L505.2 450.4ZM432.4 462.7L437.0 464.0L434.6 466.9ZM432.8 460.5L436.4 457.3L437.6 460.9ZM379.4 509.4L382.7 505.9L384.1 509.4ZM379.5 509.6L382.9 506.3L384.2 509.8ZM379.4 509.4L382.7 505.9L384.1 509.4ZM379.8 514.3L384.5 513.3L383.7 517.0ZM378.6 508.1L381.3 504.1L383.4 507.2ZM394.5 539.3L390.2 537.2L393.1 534.7ZM436.1 519.0L435.4 514.3L439.0 515.3ZM404.7 538.9L405.8 534.2L408.9 536.4ZM482.7 469.6L479.1 472.8L477.9 469.2ZM448.3 480.7L451.9 477.5L453.1 481.2ZM470.8 495.0L466.0 494.5L467.8 491.2ZM435.1 449.2L438.3 452.8L434.7 454.0ZM448.3 480.7L451.9 477.5L453.1 481.2ZM489.0 439.1L485.9 442.7L484.2 439.3ZM484.6 459.7L479.9 458.4L482.3 455.5ZM471.7 449.3L476.3 450.6L473.9 453.6ZM509.7 450.2L505.2 451.9L505.4 448.1ZM472.7 493.8L470.6 489.5L474.3 489.3ZM407.1 541.4L409.9 537.6L411.8 540.9ZM428.4 529.0L425.6 532.9L423.7 529.6ZM405.4 539.4L406.8 534.8L409.7 537.3ZM406.2 540.2L408.3 535.9L410.8 538.8ZM406.8 540.9L409.3 536.9L411.5 540.0ZM407.4 542.0L410.5 538.3L412.1 541.7ZM408.0 543.8L411.9 541.1L412.7 544.8ZM408.2 545.8L412.6 544.0L412.6 547.8ZM408.1 546.8L412.7 545.6L412.2 549.4ZM460.0 554.8L455.4 556.0L456.0 552.2ZM408.1 546.6L412.7 545.2L412.3 549.0ZM406.4 540.4L408.6 536.2L411.0 539.2ZM471.0 497.5L468.6 501.7L466.3 498.7ZM440.7 523.2L444.1 519.9L445.5 523.4ZM441.1 525.5L445.5 523.5L445.5 527.3ZM488.7 524.6L484.3 526.6L484.3 522.8ZM440.5 522.8L443.8 519.3L445.3 522.8ZM439.1 520.8L440.8 516.3L443.5 519.0ZM497.6 556.3L492.8 556.1L494.5 552.7ZM441.1 525.1L445.3 522.8L445.6 526.6ZM441.0 526.9L445.7 525.8L444.9 529.6ZM440.3 522.5L443.4 518.8L445.1 522.1ZM441.1 525.0L445.3 522.7L445.6 526.5ZM497.4 557.2L492.9 558.8L493.1 555.0ZM472.4 498.4L473.5 503.0L469.8 502.4ZM481.2 511.1L481.2 515.9L477.7 514.4ZM490.9 530.5L488.9 534.8L486.4 531.9ZM463.7 553.3L464.9 548.6L467.9 550.9ZM464.6 555.0L468.9 552.8L469.1 556.6ZM464.5 554.5L468.3 551.6L469.3 555.3ZM498.5 533.7L500.6 538.0L496.8 538.2ZM499.0 555.1L495.8 551.6L499.4 550.3ZM515.2 542.1L513.4 546.5L510.7 543.8ZM501.3 555.7L503.2 551.3L505.8 554.0ZM502.0 557.0L506.1 554.7L506.6 558.4ZM499.5 555.0L497.3 550.8L501.1 550.5ZM502.0 557.3L506.4 555.3L506.4 559.1ZM504.8 530.8L509.3 532.4L506.7 535.2ZM512.1 502.1L514.4 506.3L510.6 506.7ZM517.1 541.5L521.7 540.2L521.2 544.0ZM516.9 540.7L519.6 536.7L521.6 539.9ZM530.8 507.2L530.8 512.0L527.3 510.5ZM670.5 453.2L665.7 452.9L667.5 449.5ZM620.4 450.9L618.8 446.4L622.6 446.6ZM621.6 432.1L623.2 436.6L619.4 436.4ZM622.6 453.3L627.0 451.5L627.0 455.3ZM670.2 454.4L665.8 456.2L665.8 452.4ZM597.6 449.7L602.1 448.0L601.8 451.8ZM669.2 491.9L667.7 487.3L671.5 487.7ZM672.7 457.3L674.2 461.9L670.4 461.5ZM647.9 473.0L650.3 468.9L652.5 472.0ZM670.7 456.2L668.3 460.3L666.1 457.2ZM621.1 476.3L624.4 472.9L625.9 476.4ZM638.6 511.7L639.2 506.9L642.5 508.9ZM670.7 456.0L668.1 460.1L666.0 456.9ZM596.3 434.7L601.0 433.9L600.1 437.6ZM647.8 475.9L652.4 477.3L649.9 480.2ZM667.6 492.5L663.0 491.2L665.5 488.3ZM638.9 512.0L641.7 508.1L643.7 511.4ZM667.5 494.6L664.7 498.5L662.7 495.3ZM621.2 478.3L625.9 477.8L624.8 481.4ZM667.2 493.9L663.0 496.3L662.6 492.5ZM667.8 495.0L666.3 499.6L663.5 497.1ZM621.3 477.1L625.5 474.7L625.9 478.5ZM643.7 474.6L639.5 477.0L639.1 473.2ZM638.2 511.5L637.3 506.8L641.0 507.6ZM645.5 476.7L646.5 481.3L642.8 480.6ZM644.0 475.6L641.3 479.5L639.3 476.3ZM605.2 499.6L607.9 495.7L609.9 498.9ZM645.2 476.5L645.3 481.3L641.8 479.9ZM620.1 455.5L621.7 460.0L617.9 459.7ZM618.7 474.6L617.1 470.1L620.9 470.4ZM637.5 511.6L633.7 508.7L637.0 506.9ZM604.3 498.8L605.2 494.0L608.4 496.1ZM617.0 479.7L616.1 484.5L612.9 482.4ZM615.7 477.8L611.6 480.3L611.1 476.5ZM615.9 476.3L611.2 476.2L612.7 472.7ZM617.2 479.9L616.9 484.7L613.5 482.9ZM605.5 502.0L610.2 501.5L609.1 505.1ZM637.0 512.3L632.2 512.7L633.4 509.1ZM616.3 551.4L616.8 546.6L620.1 548.5ZM637.5 513.6L637.0 518.3L633.7 516.5ZM612.7 551.0L609.6 547.3L613.3 546.2ZM613.0 550.9L610.3 547.0L614.0 546.2ZM578.0 550.3L582.7 549.0L582.1 552.8ZM609.3 554.9L604.6 556.1L605.2 552.4ZM611.2 551.7L607.1 549.3L610.1 547.0ZM611.0 551.8L606.8 549.6L609.8 547.2ZM610.0 553.0L605.3 552.2L607.3 549.0ZM593.3 521.2L592.1 525.9L589.1 523.6ZM575.6 544.2L576.8 539.5L579.8 541.8ZM556.8 521.5L560.6 524.5L557.2 526.3ZM568.5 543.6L564.8 540.6L568.2 538.8ZM570.7 542.9L568.3 538.8L572.0 538.2ZM575.1 543.8L575.9 539.1L579.1 541.2ZM565.4 547.2L560.7 547.6L561.9 544.0ZM567.2 544.5L562.9 542.5L565.7 539.9ZM566.9 544.8L562.4 543.1L565.0 540.4ZM569.6 543.1L566.4 539.5L570.0 538.4ZM586.8 457.4L590.9 455.0L591.4 458.7ZM618.0 452.9L613.4 454.2L613.9 450.5ZM618.4 452.0L613.6 451.3L615.6 448.0ZM596.5 431.1L600.7 428.7L601.1 432.4ZM617.8 428.6L613.7 431.0L613.2 427.2ZM598.1 412.2L602.8 413.0L600.7 416.2ZM618.5 425.9L613.8 425.0L615.9 421.8ZM618.4 430.2L615.6 434.1L613.6 430.8ZM617.8 428.7L613.8 431.3L613.2 427.5ZM549.7 449.5L550.5 454.2L546.8 453.2ZM533.8 422.7L538.4 424.2L535.9 427.1ZM560.8 445.8L565.4 447.1L563.0 450.1ZM537.3 412.1L541.1 415.0L537.8 416.9ZM547.1 429.6L543.3 426.7L546.6 424.8ZM537.0 413.6L541.3 411.5L541.5 415.2ZM543.6 413.2L539.3 415.4L539.1 411.6ZM517.7 482.9L518.9 478.3L521.9 480.7ZM553.8 423.8L555.3 428.4L551.5 428.1ZM566.7 461.7L563.1 464.7L562.0 461.1ZM542.2 442.6L538.7 445.8L537.4 442.2ZM595.7 499.5L592.1 496.3L595.5 494.7ZM522.4 427.0L523.6 431.6L519.9 431.1ZM520.3 441.5L519.1 436.9L522.8 437.4ZM552.0 474.9L556.5 476.6L553.9 479.3ZM559.0 481.6L554.5 479.9L557.2 477.2ZM554.8 449.5L557.6 453.4L553.9 454.2ZM525.9 455.8L522.3 458.9L521.1 455.3ZM502.9 463.2L506.5 460.0L507.7 463.6ZM590.5 503.9L585.8 503.0L587.9 499.9ZM514.0 422.0L511.6 426.2L509.3 423.2ZM560.9 432.3L563.1 428.0L565.5 431.0ZM559.7 422.8L563.3 426.0L559.9 427.6ZM590.9 503.3L586.3 502.2L588.6 499.2ZM552.7 474.1L557.3 475.3L555.0 478.3ZM536.9 413.1L541.1 410.8L541.5 414.5ZM583.8 408.5L579.6 410.9L579.3 407.1ZM562.8 442.0L567.5 441.4L566.5 445.0ZM501.9 461.0L504.7 457.1L506.6 460.3ZM571.9 467.8L571.5 472.6L568.2 470.9ZM565.3 480.5L565.7 475.7L569.0 477.5ZM491.8 517.5L487.5 515.5L490.3 512.9ZM485.5 510.4L489.8 512.4L487.0 514.9ZM541.6 438.4L537.1 440.0L537.3 436.2ZM504.6 482.7L500.5 480.2L503.6 478.0ZM499.0 475.0L503.2 477.4L500.1 479.6ZM517.6 425.3L516.9 430.0L513.7 428.1ZM593.9 500.5L589.9 497.9L593.0 495.8ZM546.9 454.1L551.5 452.9L550.9 456.7ZM566.4 457.1L561.8 458.3L562.4 454.6ZM507.0 501.4L507.2 506.2L503.7 504.8ZM501.4 515.7L501.3 511.0L504.8 512.3ZM544.6 408.0L539.8 408.0L541.3 404.5ZM528.0 426.5L531.2 430.1L527.5 431.3ZM566.1 411.1L570.2 408.7L570.7 412.4ZM583.9 408.8L579.7 411.3L579.3 407.5ZM542.6 443.5L539.4 447.1L537.8 443.6ZM502.4 462.0L505.6 458.4L507.2 461.9ZM536.8 462.7L532.1 461.8L534.2 458.7ZM598.3 498.6L595.5 494.7L599.2 493.9ZM480.1 504.4L475.8 502.4L478.7 499.9ZM474.3 497.8L478.7 499.9L475.8 502.4ZM543.0 403.3L547.5 401.8L547.2 405.6ZM583.8 407.1L579.3 408.6L579.6 404.8ZM534.0 422.6L538.6 424.0L536.1 426.9ZM568.7 452.0L564.2 450.6L566.6 447.7ZM555.7 510.8L555.0 506.1L558.7 507.1ZM519.9 485.3L522.5 481.2L524.6 484.4ZM493.7 477.0L496.0 481.2L492.2 481.5ZM588.6 508.4L583.9 509.3L584.7 505.6ZM543.0 460.9L547.3 463.1L544.3 465.5ZM563.0 436.9L566.9 434.2L567.7 437.9ZM577.2 434.1L573.2 436.8L572.5 433.1ZM528.8 413.2L529.6 418.0L525.9 417.0ZM536.7 462.8L532.0 461.9L534.1 458.8ZM538.6 475.7L537.3 480.3L534.3 477.9ZM588.4 512.7L584.3 515.2L583.8 511.4ZM490.3 476.7L491.1 481.4L487.4 480.5ZM530.3 425.5L534.1 428.5L530.8 430.3ZM562.4 421.0L566.8 423.1L563.9 425.6ZM566.4 457.3L561.8 458.6L562.3 454.8ZM528.2 452.0L532.8 450.7L532.3 454.5ZM588.4 512.5L584.2 514.9L583.8 511.1ZM501.6 496.7L498.7 500.6L496.8 497.2ZM523.4 410.0L521.5 414.4L518.9 411.6ZM535.4 420.5L540.2 420.9L538.4 424.3ZM581.5 457.5L580.7 462.3L577.5 460.1ZM579.5 448.8L578.9 444.1L582.6 445.1ZM546.6 448.1L545.8 452.8L542.6 450.8ZM503.0 516.6L503.8 511.8L507.0 513.9ZM552.9 423.7L554.0 428.4L550.3 427.7ZM546.6 458.6L545.5 453.9L549.3 454.6ZM591.6 502.5L587.1 501.0L589.6 498.2ZM536.6 473.4L533.9 477.4L531.9 474.2ZM486.2 505.3L488.9 501.3L490.9 504.5ZM532.7 413.6L535.0 417.8L531.2 418.1ZM528.8 426.2L532.1 429.7L528.6 431.0ZM526.3 456.4L530.9 457.7L528.6 460.7ZM588.7 422.6L587.7 417.9L591.4 418.6ZM590.1 415.5L591.1 420.1L587.4 419.4ZM493.9 455.9L492.5 451.3L496.2 451.7ZM589.3 506.2L584.5 506.3L585.9 502.8ZM540.4 409.6L544.9 410.9L542.5 413.9ZM519.0 426.0L518.9 430.8L515.5 429.2ZM484.4 503.7L484.5 499.0L487.9 500.5ZM513.1 480.8L512.1 476.1L515.8 476.9ZM517.2 459.8L518.2 464.5L514.5 463.8ZM567.8 487.2L572.6 487.0L571.2 490.6ZM552.6 449.8L554.6 454.2L550.8 454.2ZM538.7 411.1L543.0 413.4L540.0 415.8ZM570.2 450.6L566.0 448.4L568.9 446.0ZM531.1 462.0L530.7 466.8L527.4 465.0ZM599.9 498.4L597.6 494.1L601.4 493.8ZM592.3 415.6L594.6 419.8L590.8 420.1ZM511.2 445.6L506.5 444.8L508.6 441.6ZM502.3 440.3L506.9 441.4L504.7 444.5ZM544.7 446.6L542.9 451.0L540.2 448.3ZM485.7 504.6L487.5 500.2L490.1 502.9ZM503.4 466.8L507.9 465.0L507.7 468.8ZM535.1 467.9L530.6 469.6L530.8 465.8ZM547.2 420.8L545.5 425.3L542.8 422.7ZM525.4 443.9L527.0 439.4L529.8 442.0ZM588.4 438.8L586.9 434.2L590.7 434.6ZM491.8 517.5L487.5 515.4L490.3 512.9ZM474.3 497.8L478.7 499.8L475.8 502.4ZM522.0 426.9L523.2 431.6L519.4 430.9ZM558.4 488.1L555.7 492.0L553.7 488.8ZM533.6 503.9L536.3 499.9L538.4 503.1ZM582.7 458.2L582.5 463.0L579.1 461.3ZM580.3 449.1L580.1 444.3L583.7 445.7ZM595.7 499.5L592.1 496.3L595.5 494.7ZM526.2 448.3L521.4 448.4L522.9 444.9ZM525.8 412.0L525.2 416.7L521.9 414.7ZM498.3 457.3L499.0 452.6L502.2 454.6ZM527.8 426.6L530.9 430.3L527.2 431.3ZM552.5 510.8L549.4 507.1L553.1 506.1ZM530.3 461.6L529.5 466.3L526.3 464.2ZM516.9 482.3L517.7 477.6L520.9 479.7ZM559.2 447.4L563.5 449.6L560.5 452.0ZM547.0 451.8L551.2 449.6L551.5 453.4ZM566.7 455.9L561.9 456.5L563.0 452.8ZM507.2 523.1L511.3 520.6L511.8 524.3ZM588.3 510.7L583.8 512.5L584.0 508.7ZM556.1 423.8L558.5 428.0L554.7 428.4ZM588.9 415.1L589.1 419.9L585.6 418.6ZM549.2 449.3L549.7 454.1L546.0 452.9ZM582.0 467.5L585.9 470.2L582.7 472.2ZM497.8 515.1L495.8 510.7L499.6 510.7ZM590.8 503.5L586.1 502.4L588.4 499.4ZM533.9 413.4L536.6 417.3L532.9 418.1ZM543.0 458.6L540.2 454.6L544.0 453.9ZM534.8 421.4L539.6 422.3L537.4 425.4ZM616.2 475.8L611.5 475.0L613.6 471.8ZM500.3 492.7L496.1 495.1L495.7 491.4ZM503.5 433.5L507.2 430.5L508.2 434.1ZM584.1 410.0L580.4 413.0L579.4 409.4ZM541.6 439.0L537.2 441.0L537.2 437.2ZM442.1 439.5L446.5 437.5L446.5 441.3ZM486.9 475.2L486.0 479.9L482.8 477.8ZM474.1 494.2L475.0 489.5L478.1 491.6ZM558.4 401.9L558.0 397.1L561.6 398.3ZM520.7 486.6L523.8 482.9L525.5 486.3ZM567.4 463.3L564.3 467.0L562.6 463.6ZM506.0 519.6L508.7 515.7L510.7 518.9ZM604.2 498.7L603.4 494.0L607.1 494.9ZM514.0 458.5L513.2 463.3L510.0 461.2ZM560.3 422.5L564.0 425.5L560.7 427.3ZM584.9 439.0L582.0 435.1L585.7 434.3ZM539.1 462.9L542.1 466.6L538.5 467.6ZM565.7 546.5L560.9 546.4L562.6 542.9ZM506.1 519.8L508.9 515.9L510.8 519.2ZM594.2 500.3L590.2 497.6L593.5 495.6ZM479.8 504.7L475.3 503.3L477.8 500.4ZM512.0 456.9L510.0 461.2L507.5 458.4ZM512.8 420.0L509.7 423.7L508.0 420.3ZM503.0 469.1L507.8 468.5L506.8 472.1ZM544.6 445.7L546.8 441.5L549.2 444.4ZM554.3 449.6L556.9 453.6L553.1 454.3ZM544.4 416.7L541.0 420.1L539.6 416.6ZM590.2 458.9L593.3 462.5L589.7 463.6ZM546.7 477.8L549.4 481.8L545.7 482.5ZM568.7 465.3L566.5 469.6L564.1 466.7ZM589.3 506.1L584.5 506.2L586.0 502.7Z" fill="#7b7f81" stroke="none"/>
<circle cx="412.4" cy="396.9" r="0.5" fill="rgb(0,133,103)"/>
<circle cx="461.1" cy="416.8" r="2.5" fill="rgb(0,133,103)"/>
<circle cx="639.0" cy="347.4" r="2.0" fill="rgb(0,133,103)"/>
<circle cx="568.6" cy="370.6" r="5.0" fill="rgb(21,143,103)"/>
<circle cx="568.6" cy="394.9" r="3.7" fill="rgb(2,134,103)"/>
<circle cx="591.6" cy="407.8" r="7.5" fill="rgb(74,167,102)"/>
<circle cx="621.8" cy="428.1" r="3.7" fill="rgb(2,134,103)"/>
<circle cx="531.7" cy="402.3" r="11.0" fill="rgb(177,211,101)"/>
<circle cx="524.2" cy="414.3" r="12.5" fill="rgb(229,233,100)"/>
<circle cx="554.9" cy="412.6" r="11.0" fill="rgb(177,211,101)"/>
<circle cx="586.8" cy="432.2" r="9.5" fill="rgb(131,193,102)"/>
<circle cx="371.7" cy="512.6" r="8.0" fill="rgb(87,173,102)"/>
<circle cx="399.9" cy="545.6" r="8.0" fill="rgb(87,173,102)"/>
<circle cx="434.3" cy="525.6" r="6.5" fill="rgb(24,144,103)"/>
<circle cx="462.3" cy="555.1" r="2.0" fill="rgb(0,133,103)"/>
<circle cx="499.7" cy="557.3" r="2.0" fill="rgb(0,133,103)"/>
<circle cx="431.8" cy="439.5" r="10.0" fill="rgb(169,208,101)"/>
<circle cx="430.6" cy="461.2" r="2.0" fill="rgb(0,133,103)"/>
<circle cx="446.1" cy="481.4" r="2.0" fill="rgb(0,133,103)"/>
<circle cx="470.3" cy="448.2" r="1.5" fill="rgb(0,133,103)"/>
<circle cx="496.0" cy="435.7" r="7.5" fill="rgb(74,167,102)"/>
<circle cx="492.8" cy="466.4" r="10.3" fill="rgb(186,215,101)"/>
<circle cx="472.8" cy="496.1" r="2.0" fill="rgb(0,133,103)"/>
<circle cx="482.8" cy="507.4" r="3.7" fill="rgb(2,134,103)"/>
<circle cx="511.0" cy="491.4" r="10.5" fill="rgb(161,205,101)"/>
<circle cx="498.0" cy="524.4" r="9.0" fill="rgb(116,186,102)"/>
<circle cx="516.0" cy="541.3" r="0.8" fill="rgb(0,133,103)"/>
<circle cx="519.0" cy="450.7" r="9.0" fill="rgb(116,186,102)"/>
<circle cx="673.0" cy="454.5" r="2.5" fill="rgb(0,133,103)"/>
<circle cx="669.0" cy="493.7" r="1.5" fill="rgb(0,133,103)"/>
<circle cx="614.0" cy="555.6" r="4.5" fill="rgb(13,139,103)"/>
<circle cx="571.6" cy="549.3" r="6.2" fill="rgb(44,153,103)"/>
<circle cx="638.0" cy="512.6" r="0.8" fill="rgb(0,133,103)"/>
<circle cx="646.0" cy="474.4" r="2.0" fill="rgb(0,133,103)"/>
<circle cx="618.5" cy="477.4" r="2.5" fill="rgb(0,133,103)"/>
<circle cx="620.3" cy="453.2" r="2.0" fill="rgb(0,133,103)"/>
<circle cx="602.8" cy="501.1" r="2.5" fill="rgb(0,133,103)"/>
<circle cx="601.1" cy="511.1" r="12.5" fill="rgb(229,233,100)"/>
<circle cx="554.1" cy="516.4" r="5.5" fill="rgb(30,147,103)"/>
<circle cx="531.7" cy="505.1" r="2.0" fill="rgb(0,133,103)"/>
<circle cx="562.9" cy="485.2" r="5.0" fill="rgb(21,143,103)"/>
<circle cx="544.9" cy="468.2" r="9.5" fill="rgb(131,193,102)"/>
<circle cx="576.6" cy="458.7" r="10.0" fill="rgb(165,207,101)"/>
<circle cx="587.3" cy="449.0" r="10.0" fill="rgb(186,215,101)"/>
<circle cx="536.2" cy="452.5" r="10.5" fill="rgb(199,221,101)"/>
<circle cx="552.4" cy="439.0" r="10.5" fill="rgb(161,205,101)"/>
<g font-size="8.9" text-anchor="middle" fill="#111">
<text x="412.4" y="399.9">234</text>
<text x="461.1" y="419.8">108</text>
<text x="560.4" y="334.7">162</text>
<text x="639.0" y="350.4">1116</text>
<text x="568.6" y="373.6">612</text>
<text x="568.6" y="397.9">594</text>
<text x="591.6" y="410.8">144</text>
<text x="621.8" y="431.1">90</text>
<text x="531.7" y="405.3">324</text>
<text x="524.2" y="417.3">270</text>
<text x="554.9" y="415.6">396</text>
<text x="586.8" y="435.2">828</text>
<text x="371.7" y="515.6">180</text>
<text x="399.9" y="548.6">360</text>
<text x="434.3" y="528.6">630</text>
<text x="462.3" y="558.1">522</text>
<text x="499.7" y="560.3">702</text>
<text x="431.8" y="442.5">216</text>
<text x="430.6" y="464.2">252</text>
<text x="446.1" y="484.4">450</text>
<text x="470.3" y="451.2">126</text>
<text x="496.0" y="438.7">288</text>
<text x="492.8" y="469.4">558</text>
<text x="472.8" y="499.1">576</text>
<text x="482.8" y="510.4">738</text>
<text x="511.0" y="494.4">414</text>
<text x="498.0" y="527.4">810</text>
<text x="516.0" y="544.3">792</text>
<text x="519.0" y="453.7">756</text>
<text x="673.0" y="457.5">864</text>
<text x="669.0" y="496.7">648</text>
<text x="614.0" y="558.6">1134</text>
<text x="571.6" y="552.3">432</text>
<text x="638.0" y="515.6">666</text>
<text x="646.0" y="477.4">378</text>
<text x="618.5" y="480.4">684</text>
<text x="620.3" y="456.2">1026</text>
<text x="602.8" y="504.1">774</text>
<text x="601.1" y="514.1">846</text>
<text x="554.1" y="519.4">720</text>
<text x="531.7" y="508.1">306</text>
<text x="562.9" y="488.2">468</text>
<text x="544.9" y="471.2">504</text>
<text x="576.6" y="461.7">540</text>
<text x="587.3" y="452.0">486</text>
<text x="536.2" y="455.5">342</text>
<text x="552.4" y="442.0">198</text>
</g>
<text x="522.8" y="303.8" font-size="9.5" text-anchor="middle" fill="#1a1a1a">Eigenvector Centrality</text>
</g>
</svg>
</body></html>
